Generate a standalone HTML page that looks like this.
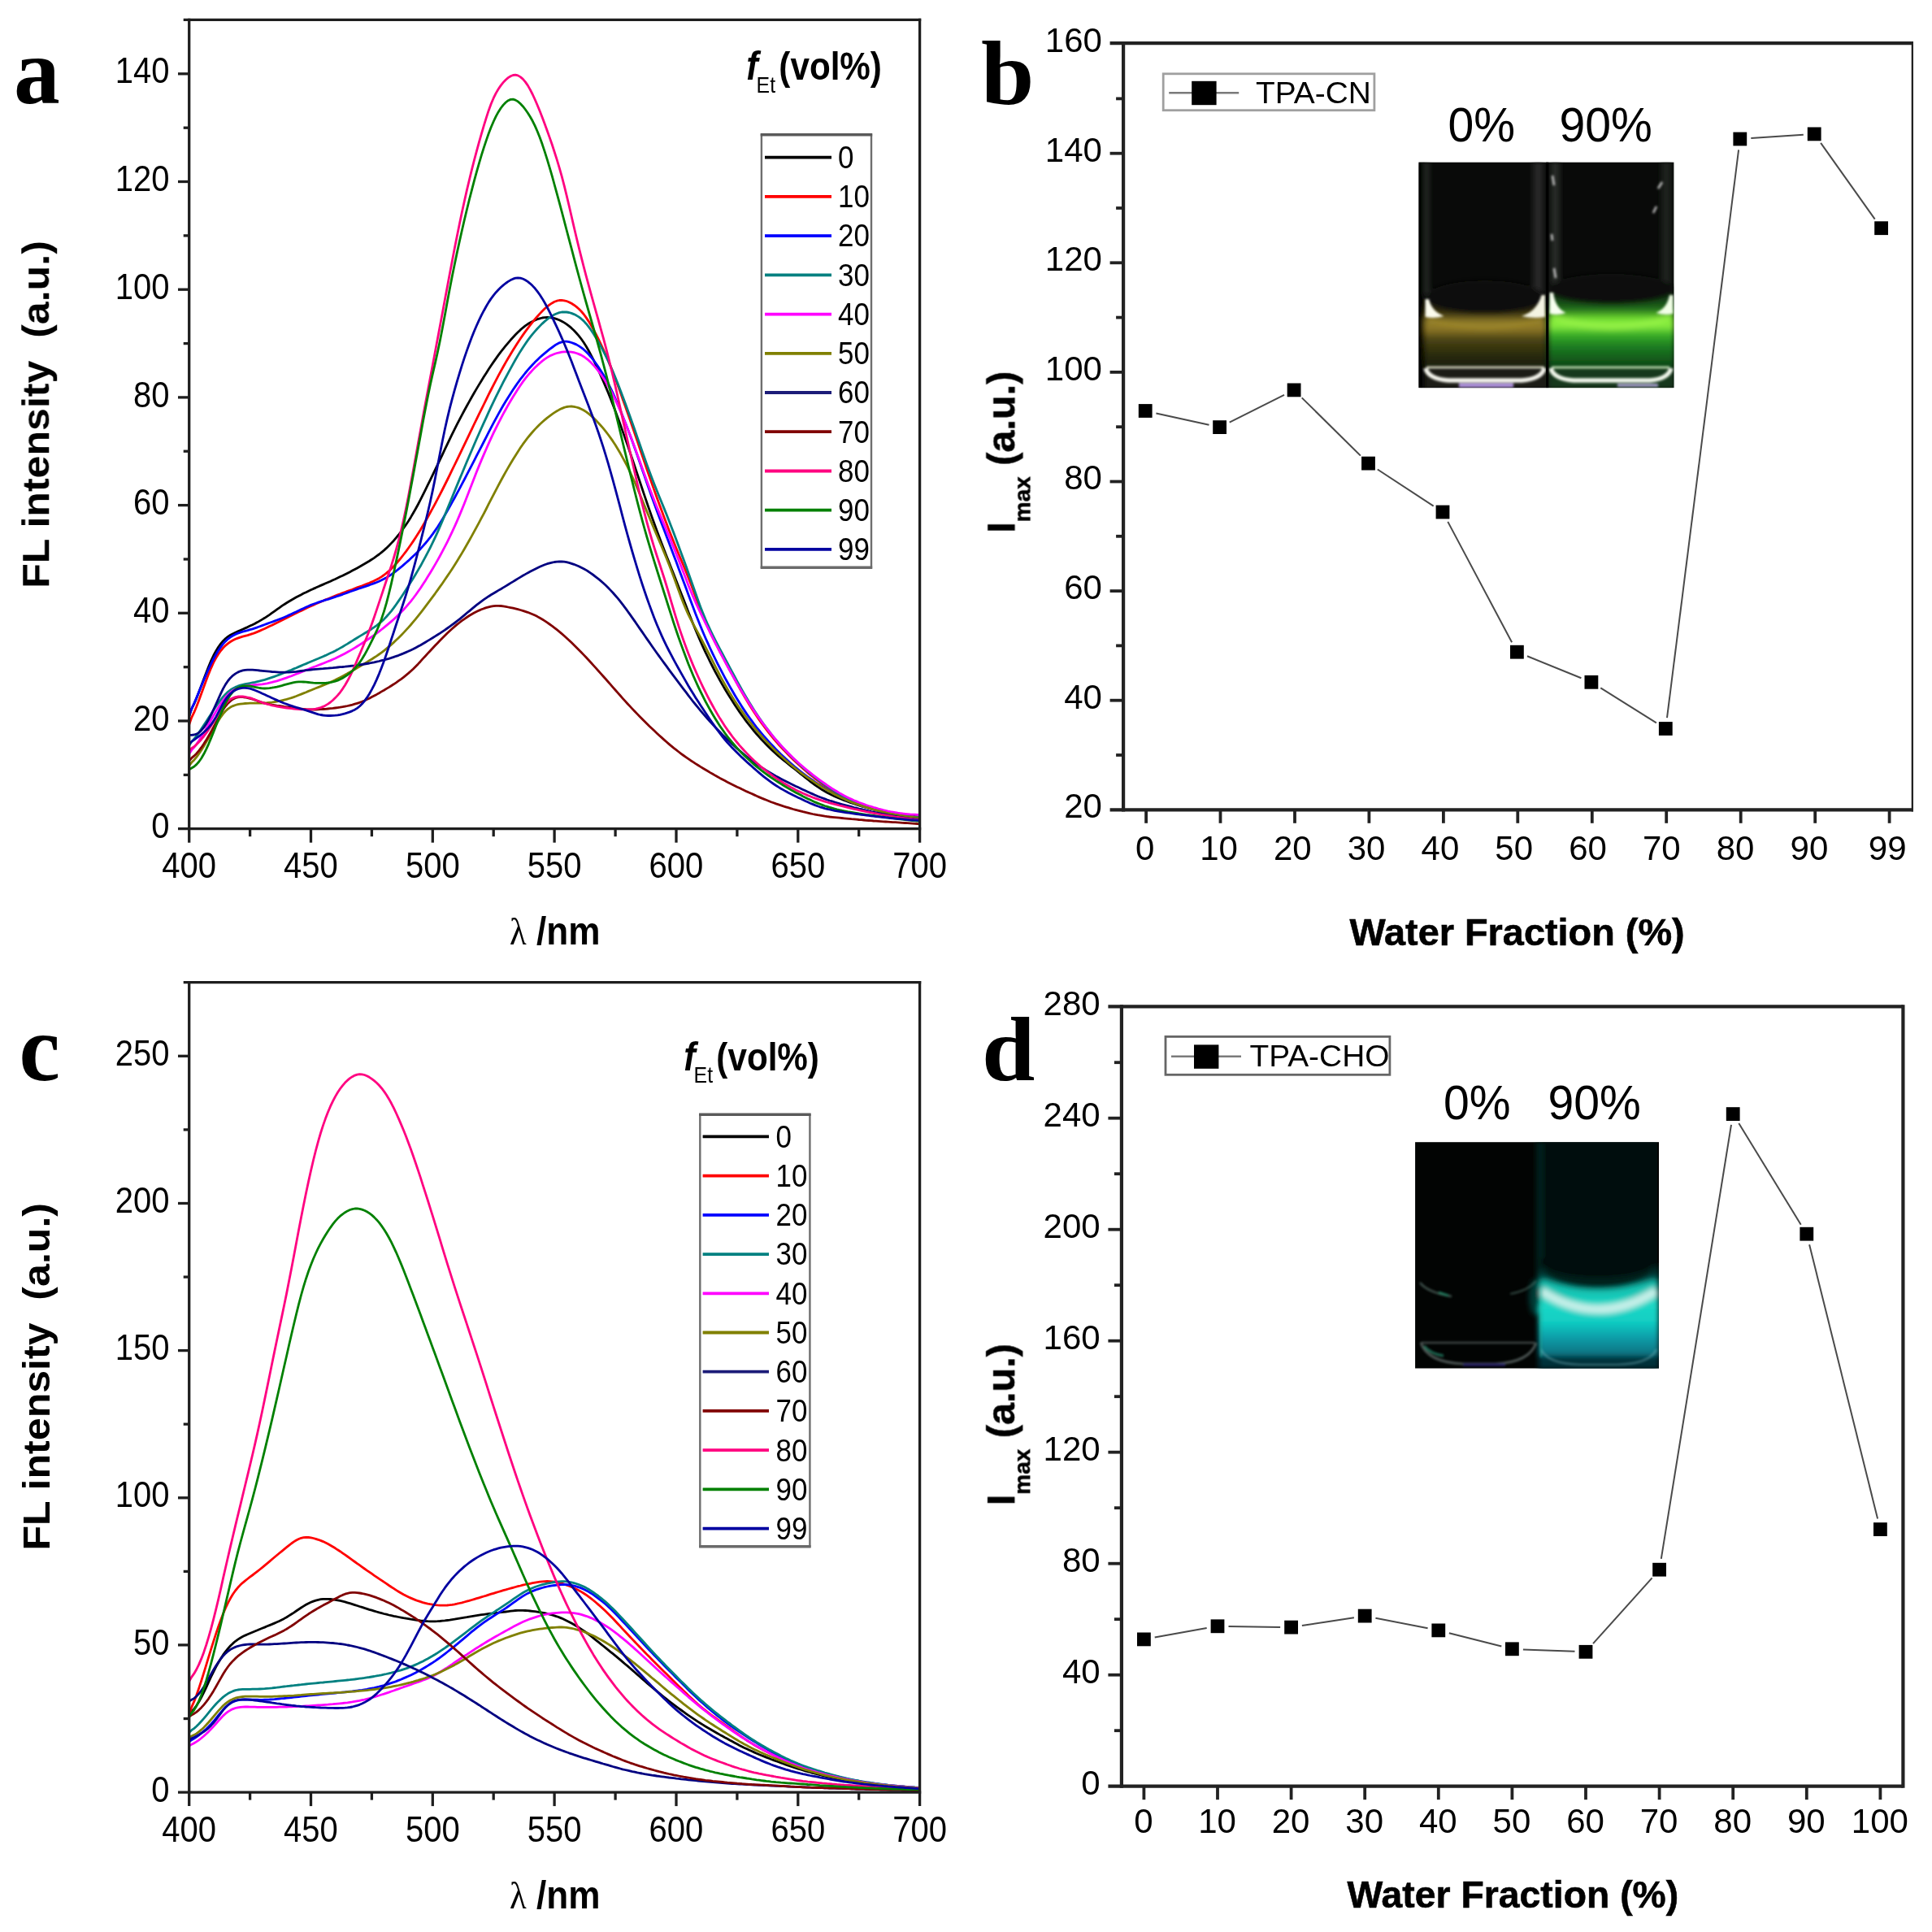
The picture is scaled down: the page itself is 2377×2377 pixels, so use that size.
<!DOCTYPE html>
<html lang="en"><head><meta charset="utf-8"><title>Fluorescence spectra of TPA-CN and TPA-CHO in water/ethanol mixtures</title>
<style>html,body{margin:0;padding:0;background:#fff}svg{display:block}</style></head><body>
<svg width="2377" height="2377" viewBox="0 0 2377 2377">
<rect width="2377" height="2377" fill="#fff"/>
<g filter="url(#soft)">
<clipPath id="clipa"><rect x="232.7" y="24.3" width="898.9" height="995.4"/></clipPath>
<g clip-path="url(#clipa)" fill="none" stroke-width="2.8" stroke-linejoin="round">
<path d="M232.7,881 235.7,872.3 238.7,866.2 241.7,859.2 244.7,851.5 247.7,843.6 250.7,835.6 253.7,827.7 256.7,820 259.7,812.9 262.7,806.5 265.7,800.9 268.7,796 271.7,791.9 274.6,788.4 277.6,785.5 280.6,783.2 283.6,781.3 286.6,779.7 289.6,778.2 292.6,776.9 295.6,775.6 298.6,774.2 301.6,772.9 304.6,771.6 307.6,770.1 310.6,768.7 313.6,767.2 316.6,765.6 319.6,763.9 322.6,762.1 325.6,760.3 328.6,758.3 331.6,756.3 334.6,754.2 337.6,752.1 340.6,749.9 343.6,747.8 346.6,745.7 349.6,743.7 352.6,741.8 355.5,740 358.5,738.2 361.5,736.5 364.5,734.8 367.5,733.2 370.5,731.7 373.5,730.1 376.5,728.7 379.5,727.2 382.5,725.8 385.5,724.4 388.5,723.1 391.5,721.7 394.5,720.4 397.5,719.1 400.5,717.8 403.5,716.5 406.5,715.2 409.5,713.8 412.5,712.5 415.5,711.1 418.5,709.6 421.5,708.2 424.5,706.7 427.5,705.2 430.5,703.7 433.5,702.1 436.5,700.5 439.4,698.9 442.4,697.2 445.4,695.5 448.4,693.8 451.4,692 454.4,690.2 457.4,688.3 460.4,686.3 463.4,684.2 466.4,682 469.4,679.6 472.4,677.1 475.4,674.4 478.4,671.5 481.4,668.4 484.4,665.2 487.4,661.7 490.4,658 493.4,654.1 496.4,650 499.4,645.7 502.4,641.2 505.4,636.4 508.4,631.3 511.4,626 514.4,620.5 517.4,614.7 520.3,608.8 523.3,602.8 526.3,596.7 529.3,590.6 532.3,584.4 535.3,578.2 538.3,571.9 541.3,565.6 544.3,559.3 547.3,552.9 550.3,546.6 553.3,540.4 556.3,534.2 559.3,528.2 562.3,522.2 565.3,516.4 568.3,510.7 571.3,505 574.3,499.5 577.3,494.1 580.3,488.7 583.3,483.5 586.3,478.4 589.3,473.4 592.3,468.5 595.3,463.6 598.3,458.9 601.2,454.3 604.2,449.8 607.2,445.4 610.2,441.1 613.2,436.9 616.2,432.9 619.2,429.1 622.2,425.4 625.2,421.8 628.2,418.3 631.2,415 634.2,411.8 637.2,408.8 640.2,405.9 643.2,403.3 646.2,400.9 649.2,398.8 652.2,397 655.2,395.4 658.2,393.9 661.2,392.7 664.2,391.8 667.2,391 670.2,390.6 673.2,390.4 676.2,390.6 679.2,391 682.1,391.7 685.1,392.6 688.1,393.7 691.1,395.2 694.1,396.9 697.1,398.9 700.1,401.2 703.1,403.7 706.1,406.5 709.1,409.7 712.1,413.1 715.1,417 718.1,421.3 721.1,426 724.1,431.2 727.1,436.8 730.1,442.7 733.1,448.8 736.1,455.2 739.1,461.8 742.1,468.6 745.1,475.6 748.1,482.8 751.1,490.2 754.1,497.9 757.1,505.8 760.1,513.9 763.1,522.1 766,530.4 769,538.9 772,547.4 775,556.1 778,565 781,573.9 784,582.9 787,591.9 790,601 793,609.9 796,618.7 799,627.4 802,635.9 805,644.3 808,652.4 811,660.5 814,668.4 817,676.2 820,683.9 823,691.6 826,699.2 829,706.8 832,714.5 835,722.2 838,729.9 841,737.6 844,745.3 846.9,752.9 849.9,760.5 852.9,768 855.9,775.2 858.9,782.3 861.9,789.2 864.9,795.8 867.9,802.3 870.9,808.5 873.9,814.6 876.9,820.5 879.9,826.3 882.9,831.8 885.9,837.3 888.9,842.6 891.9,847.7 894.9,852.7 897.9,857.6 900.9,862.3 903.9,867 906.9,871.5 909.9,875.9 912.9,880.1 915.9,884.3 918.9,888.3 921.9,892.1 924.9,895.9 927.8,899.5 930.8,903 933.8,906.4 936.8,909.7 939.8,912.9 942.8,916 945.8,919 948.8,921.9 951.8,924.7 954.8,927.4 957.8,930.1 960.8,932.6 963.8,935.1 966.8,937.5 969.8,939.9 972.8,942.3 975.8,944.7 978.8,947 981.8,949.4 984.8,951.8 987.8,954.2 990.8,956.6 993.8,958.9 996.8,961.3 999.8,963.6 1002.8,965.8 1005.8,967.9 1008.8,969.9 1011.7,971.8 1014.7,973.5 1017.7,975.2 1020.7,976.8 1023.7,978.3 1026.7,979.7 1029.7,981 1032.7,982.3 1035.7,983.5 1038.7,984.7 1041.7,985.8 1044.7,986.9 1047.7,988 1050.7,989 1053.7,990 1056.7,990.9 1059.7,991.8 1062.7,992.7 1065.7,993.5 1068.7,994.3 1071.7,995.1 1074.7,995.8 1077.7,996.5 1080.7,997.2 1083.7,997.8 1086.7,998.4 1089.7,999 1092.6,999.6 1095.6,1000.1 1098.6,1000.6 1101.6,1001.1 1104.6,1001.6 1107.6,1002 1110.6,1002.5 1113.6,1002.9 1116.6,1003.3 1119.6,1003.7 1122.6,1004 1125.6,1004.4 1128.6,1004.7 1131.6,1004.9" stroke="#000000"/>
<path d="M232.7,891.6 235.7,882.8 238.7,876.7 241.7,869.5 244.7,861.7 247.7,853.6 250.7,845.3 253.7,837 256.7,829.1 259.7,821.8 262.7,815.2 265.7,809.6 268.7,804.7 271.7,800.5 274.6,797 277.6,794.1 280.6,791.6 283.6,789.5 286.6,787.8 289.6,786.3 292.6,785.1 295.6,784.1 298.6,783.2 301.6,782.4 304.6,781.6 307.6,780.7 310.6,779.7 313.6,778.6 316.6,777.4 319.6,776.1 322.6,774.8 325.6,773.5 328.6,772.1 331.6,770.6 334.6,769.2 337.6,767.7 340.6,766.2 343.6,764.8 346.6,763.3 349.6,761.8 352.6,760.3 355.5,758.8 358.5,757.3 361.5,755.8 364.5,754.3 367.5,752.8 370.5,751.4 373.5,749.9 376.5,748.5 379.5,747.1 382.5,745.7 385.5,744.4 388.5,743 391.5,741.7 394.5,740.4 397.5,739.2 400.5,737.9 403.5,736.7 406.5,735.5 409.5,734.3 412.5,733.1 415.5,731.9 418.5,730.8 421.5,729.6 424.5,728.5 427.5,727.4 430.5,726.3 433.5,725.2 436.5,724 439.4,722.9 442.4,721.8 445.4,720.7 448.4,719.5 451.4,718.4 454.4,717.2 457.4,715.9 460.4,714.5 463.4,713 466.4,711.4 469.4,709.6 472.4,707.5 475.4,705.2 478.4,702.7 481.4,699.9 484.4,696.8 487.4,693.5 490.4,690 493.4,686.4 496.4,682.5 499.4,678.6 502.4,674.5 505.4,670.3 508.4,665.9 511.4,661.3 514.4,656.6 517.4,651.7 520.3,646.6 523.3,641.5 526.3,636.3 529.3,630.9 532.3,625.4 535.3,619.9 538.3,614.2 541.3,608.4 544.3,602.5 547.3,596.5 550.3,590.5 553.3,584.3 556.3,578.2 559.3,572 562.3,565.8 565.3,559.6 568.3,553.4 571.3,547.1 574.3,540.8 577.3,534.6 580.3,528.3 583.3,522 586.3,515.8 589.3,509.7 592.3,503.6 595.3,497.5 598.3,491.4 601.2,485.4 604.2,479.5 607.2,473.6 610.2,467.9 613.2,462.2 616.2,456.6 619.2,451.2 622.2,445.9 625.2,440.8 628.2,435.7 631.2,430.8 634.2,426 637.2,421.3 640.2,416.8 643.2,412.4 646.2,408.1 649.2,404.1 652.2,400.2 655.2,396.4 658.2,392.7 661.2,389.2 664.2,385.9 667.2,382.7 670.2,379.8 673.2,377.2 676.2,374.9 679.2,372.9 682.1,371.3 685.1,370.2 688.1,369.5 691.1,369.4 694.1,369.8 697.1,370.5 700.1,371.7 703.1,373.3 706.1,375.2 709.1,377.4 712.1,380 715.1,383 718.1,386.5 721.1,390.6 724.1,395.1 727.1,400 730.1,405.4 733.1,411 736.1,416.9 739.1,423.1 742.1,429.5 745.1,436.2 748.1,443.2 751.1,450.5 754.1,458.2 757.1,466 760.1,474.1 763.1,482.3 766,490.7 769,499.1 772,507.6 775,516.1 778,524.8 781,533.6 784,542.4 787,551.2 790,560.1 793,568.9 796,577.7 799,586.3 802,594.9 805,603.4 808,611.7 811,620 814,628.1 817,636.2 820,644.1 823,651.9 826,659.6 829,667.1 832,674.5 835,681.7 838,688.8 841,696 844,703.2 846.9,710.6 849.9,718.3 852.9,726.3 855.9,734.5 858.9,742.5 861.9,750.4 864.9,757.9 867.9,765 870.9,771.7 873.9,778.2 876.9,784.4 879.9,790.4 882.9,796.2 885.9,802 888.9,807.7 891.9,813.3 894.9,819 897.9,824.6 900.9,830.2 903.9,835.7 906.9,841.2 909.9,846.5 912.9,851.8 915.9,857 918.9,862 921.9,866.9 924.9,871.7 927.8,876.3 930.8,880.8 933.8,885.1 936.8,889.4 939.8,893.5 942.8,897.5 945.8,901.4 948.8,905.1 951.8,908.8 954.8,912.3 957.8,915.7 960.8,919 963.8,922.3 966.8,925.4 969.8,928.5 972.8,931.5 975.8,934.4 978.8,937.2 981.8,940 984.8,942.7 987.8,945.4 990.8,948 993.8,950.6 996.8,953.1 999.8,955.5 1002.8,957.9 1005.8,960.2 1008.8,962.4 1011.7,964.5 1014.7,966.6 1017.7,968.6 1020.7,970.6 1023.7,972.5 1026.7,974.3 1029.7,976.1 1032.7,977.8 1035.7,979.4 1038.7,981 1041.7,982.5 1044.7,983.9 1047.7,985.3 1050.7,986.6 1053.7,987.9 1056.7,989.1 1059.7,990.3 1062.7,991.4 1065.7,992.5 1068.7,993.5 1071.7,994.4 1074.7,995.3 1077.7,996.2 1080.7,997 1083.7,997.8 1086.7,998.6 1089.7,999.3 1092.6,1000 1095.6,1000.6 1098.6,1001.2 1101.6,1001.7 1104.6,1002.3 1107.6,1002.8 1110.6,1003.2 1113.6,1003.7 1116.6,1004.1 1119.6,1004.5 1122.6,1004.8 1125.6,1005.1 1128.6,1005.4 1131.6,1005.6" stroke="#ff0000"/>
<path d="M232.7,881 235.7,871.8 238.7,865.6 241.7,858.6 244.7,851.3 247.7,844 250.7,836.8 253.7,829.7 256.7,823 259.7,816.6 262.7,810.7 265.7,805.3 268.7,800.3 271.7,795.9 274.6,792.1 277.6,788.9 280.6,786.1 283.6,783.9 286.6,782 289.6,780.4 292.6,779.1 295.6,778.1 298.6,777.2 301.6,776.4 304.6,775.6 307.6,774.7 310.6,773.8 313.6,772.8 316.6,771.8 319.6,770.7 322.6,769.6 325.6,768.5 328.6,767.4 331.6,766.3 334.6,765.2 337.6,764.1 340.6,763 343.6,761.9 346.6,760.7 349.6,759.5 352.6,758.2 355.5,756.9 358.5,755.5 361.5,754.1 364.5,752.7 367.5,751.2 370.5,749.8 373.5,748.4 376.5,747 379.5,745.7 382.5,744.4 385.5,743.3 388.5,742.2 391.5,741.1 394.5,740.1 397.5,739.2 400.5,738.2 403.5,737.3 406.5,736.3 409.5,735.3 412.5,734.4 415.5,733.3 418.5,732.3 421.5,731.3 424.5,730.2 427.5,729.1 430.5,728 433.5,727 436.5,725.9 439.4,724.9 442.4,723.8 445.4,722.8 448.4,721.8 451.4,720.8 454.4,719.8 457.4,718.7 460.4,717.6 463.4,716.5 466.4,715.2 469.4,713.8 472.4,712.3 475.4,710.6 478.4,708.8 481.4,706.8 484.4,704.7 487.4,702.5 490.4,700.1 493.4,697.7 496.4,695.1 499.4,692.5 502.4,689.9 505.4,687.1 508.4,684.3 511.4,681.4 514.4,678.4 517.4,675.2 520.3,671.9 523.3,668.5 526.3,664.9 529.3,661.1 532.3,657.1 535.3,652.9 538.3,648.5 541.3,643.8 544.3,638.9 547.3,633.8 550.3,628.6 553.3,623.3 556.3,617.9 559.3,612.5 562.3,606.9 565.3,601.4 568.3,595.7 571.3,590 574.3,584.2 577.3,578.4 580.3,572.6 583.3,566.8 586.3,560.9 589.3,555.1 592.3,549.3 595.3,543.5 598.3,537.7 601.2,531.9 604.2,526.1 607.2,520.4 610.2,514.8 613.2,509.3 616.2,504 619.2,498.8 622.2,493.8 625.2,488.9 628.2,484.2 631.2,479.6 634.2,475.1 637.2,470.8 640.2,466.7 643.2,462.8 646.2,459 649.2,455.4 652.2,452 655.2,448.7 658.2,445.6 661.2,442.7 664.2,439.8 667.2,437.1 670.2,434.6 673.2,432.1 676.2,429.7 679.2,427.5 682.1,425.3 685.1,423.4 688.1,421.8 691.1,420.8 694.1,420.2 697.1,420.2 700.1,420.7 703.1,421.5 706.1,422.6 709.1,423.9 712.1,425.6 715.1,427.6 718.1,429.9 721.1,432.7 724.1,435.8 727.1,439.2 730.1,443 733.1,447 736.1,451.3 739.1,455.9 742.1,460.8 745.1,466 748.1,471.5 751.1,477.4 754.1,483.7 757.1,490.3 760.1,497.2 763.1,504.4 766,511.7 769,519.3 772,527 775,534.9 778,543.1 781,551.4 784,559.9 787,568.5 790,577.2 793,585.9 796,594.5 799,603.1 802,611.5 805,619.7 808,627.9 811,635.9 814,643.9 817,651.8 820,659.7 823,667.6 826,675.5 829,683.4 832,691.3 835,699.4 838,707.4 841,715.5 844,723.6 846.9,731.6 849.9,739.6 852.9,747.6 855.9,755.4 858.9,763.1 861.9,770.5 864.9,777.7 867.9,784.7 870.9,791.4 873.9,798 876.9,804.3 879.9,810.5 882.9,816.6 885.9,822.4 888.9,828.2 891.9,833.8 894.9,839.2 897.9,844.6 900.9,849.8 903.9,855 906.9,860 909.9,864.8 912.9,869.6 915.9,874.1 918.9,878.6 921.9,882.8 924.9,886.9 927.8,890.9 930.8,894.8 933.8,898.5 936.8,902.1 939.8,905.6 942.8,909 945.8,912.4 948.8,915.6 951.8,918.8 954.8,921.9 957.8,924.9 960.8,927.9 963.8,930.7 966.8,933.6 969.8,936.3 972.8,939 975.8,941.6 978.8,944.2 981.8,946.6 984.8,949 987.8,951.3 990.8,953.6 993.8,955.8 996.8,957.9 999.8,960 1002.8,962.1 1005.8,964.1 1008.8,966 1011.7,967.9 1014.7,969.8 1017.7,971.6 1020.7,973.4 1023.7,975.2 1026.7,976.9 1029.7,978.5 1032.7,980.1 1035.7,981.6 1038.7,983.1 1041.7,984.4 1044.7,985.7 1047.7,987 1050.7,988.1 1053.7,989.2 1056.7,990.3 1059.7,991.3 1062.7,992.3 1065.7,993.3 1068.7,994.2 1071.7,995.1 1074.7,996 1077.7,996.9 1080.7,997.8 1083.7,998.7 1086.7,999.5 1089.7,1000.3 1092.6,1001 1095.6,1001.8 1098.6,1002.4 1101.6,1003.1 1104.6,1003.6 1107.6,1004.2 1110.6,1004.7 1113.6,1005.2 1116.6,1005.6 1119.6,1006 1122.6,1006.3 1125.6,1006.6 1128.6,1006.8 1131.6,1007" stroke="#0000ff"/>
<path d="M232.7,917.5 235.7,912.6 238.7,909.3 241.7,905.4 244.7,901.2 247.7,896.8 250.7,892.3 253.7,887.7 256.7,883 259.7,878.4 262.7,873.8 265.7,869.3 268.7,864.9 271.7,860.8 274.6,857.1 277.6,853.9 280.6,851.1 283.6,848.8 286.6,847 289.6,845.4 292.6,844.2 295.6,843.2 298.6,842.4 301.6,841.7 304.6,841.1 307.6,840.5 310.6,839.9 313.6,839.3 316.6,838.6 319.6,837.9 322.6,837.1 325.6,836.3 328.6,835.4 331.6,834.4 334.6,833.4 337.6,832.4 340.6,831.3 343.6,830.1 346.6,829 349.6,827.8 352.6,826.6 355.5,825.4 358.5,824.2 361.5,822.9 364.5,821.7 367.5,820.4 370.5,819.1 373.5,817.8 376.5,816.6 379.5,815.3 382.5,814 385.5,812.8 388.5,811.5 391.5,810.3 394.5,809 397.5,807.7 400.5,806.4 403.5,805 406.5,803.6 409.5,802.2 412.5,800.7 415.5,799.1 418.5,797.4 421.5,795.7 424.5,793.9 427.5,792.1 430.5,790.2 433.5,788.4 436.5,786.5 439.4,784.7 442.4,782.9 445.4,781.1 448.4,779.3 451.4,777.5 454.4,775.6 457.4,773.7 460.4,771.7 463.4,769.6 466.4,767.2 469.4,764.7 472.4,761.9 475.4,758.8 478.4,755.4 481.4,751.8 484.4,747.9 487.4,743.7 490.4,739.4 493.4,735 496.4,730.4 499.4,725.8 502.4,721.1 505.4,716.3 508.4,711.4 511.4,706.5 514.4,701.4 517.4,696.3 520.3,690.9 523.3,685.4 526.3,679.7 529.3,673.8 532.3,667.7 535.3,661.4 538.3,654.8 541.3,647.9 544.3,640.9 547.3,633.7 550.3,626.4 553.3,619.1 556.3,611.7 559.3,604.4 562.3,597.1 565.3,589.9 568.3,582.7 571.3,575.5 574.3,568.3 577.3,561.2 580.3,554.2 583.3,547.2 586.3,540.3 589.3,533.5 592.3,526.8 595.3,520.2 598.3,513.6 601.2,507.1 604.2,500.7 607.2,494.4 610.2,488.2 613.2,482.1 616.2,476.1 619.2,470.2 622.2,464.5 625.2,458.8 628.2,453.3 631.2,447.9 634.2,442.5 637.2,437.4 640.2,432.4 643.2,427.7 646.2,423.2 649.2,418.9 652.2,414.9 655.2,411.1 658.2,407.6 661.2,404.2 664.2,401.1 667.2,398.1 670.2,395.4 673.2,392.9 676.2,390.7 679.2,388.7 682.1,387.1 685.1,385.7 688.1,384.6 691.1,384 694.1,383.8 697.1,384 700.1,384.5 703.1,385.4 706.1,386.6 709.1,388.1 712.1,389.9 715.1,392.2 718.1,394.9 721.1,398.2 724.1,401.9 727.1,406 730.1,410.6 733.1,415.4 736.1,420.5 739.1,425.9 742.1,431.6 745.1,437.5 748.1,443.7 751.1,450.4 754.1,457.3 757.1,464.5 760.1,472 763.1,479.7 766,487.6 769,495.6 772,503.7 775,512 778,520.4 781,528.9 784,537.6 787,546.3 790,554.9 793,563.5 796,571.9 799,580.1 802,588.1 805,595.8 808,603.3 811,610.7 814,618 817,625.4 820,632.8 823,640.4 826,648.2 829,656.1 832,664.1 835,672.1 838,680.2 841,688.3 844,696.5 846.9,704.8 849.9,713.2 852.9,721.7 855.9,730.3 858.9,738.8 861.9,746.9 864.9,754.6 867.9,761.9 870.9,768.7 873.9,775.1 876.9,781.3 879.9,787.3 882.9,793.1 885.9,798.8 888.9,804.4 891.9,810.1 894.9,815.7 897.9,821.3 900.9,827 903.9,832.5 906.9,838.1 909.9,843.5 912.9,848.9 915.9,854.2 918.9,859.3 921.9,864.3 924.9,869.1 927.8,873.8 930.8,878.3 933.8,882.8 936.8,887.1 939.8,891.3 942.8,895.3 945.8,899.2 948.8,903.1 951.8,906.8 954.8,910.4 957.8,913.9 960.8,917.3 963.8,920.6 966.8,923.8 969.8,926.9 972.8,930 975.8,932.9 978.8,935.8 981.8,938.7 984.8,941.4 987.8,944.1 990.8,946.7 993.8,949.3 996.8,951.7 999.8,954.2 1002.8,956.5 1005.8,958.8 1008.8,961.1 1011.7,963.2 1014.7,965.4 1017.7,967.4 1020.7,969.5 1023.7,971.4 1026.7,973.3 1029.7,975.2 1032.7,976.9 1035.7,978.6 1038.7,980.2 1041.7,981.8 1044.7,983.2 1047.7,984.6 1050.7,986 1053.7,987.2 1056.7,988.4 1059.7,989.6 1062.7,990.7 1065.7,991.8 1068.7,992.8 1071.7,993.8 1074.7,994.7 1077.7,995.7 1080.7,996.6 1083.7,997.4 1086.7,998.2 1089.7,999 1092.6,999.8 1095.6,1000.5 1098.6,1001.1 1101.6,1001.7 1104.6,1002.3 1107.6,1002.8 1110.6,1003.3 1113.6,1003.8 1116.6,1004.2 1119.6,1004.6 1122.6,1004.9 1125.6,1005.2 1128.6,1005.5 1131.6,1005.6" stroke="#008080"/>
<path d="M232.7,927.5 235.7,922.9 238.7,919.6 241.7,915.6 244.7,911.2 247.7,906.5 250.7,901.6 253.7,896.4 256.7,891.1 259.7,885.8 262.7,880.5 265.7,875.4 268.7,870.4 271.7,865.8 274.6,861.6 277.6,857.8 280.6,854.6 283.6,851.9 286.6,849.6 289.6,847.8 292.6,846.4 295.6,845.3 298.6,844.6 301.6,844 304.6,843.6 307.6,843.3 310.6,843 313.6,842.7 316.6,842.4 319.6,842.1 322.6,841.8 325.6,841.3 328.6,840.8 331.6,840.1 334.6,839.4 337.6,838.6 340.6,837.8 343.6,836.8 346.6,835.9 349.6,834.9 352.6,833.9 355.5,832.8 358.5,831.7 361.5,830.5 364.5,829.3 367.5,828.1 370.5,826.9 373.5,825.7 376.5,824.4 379.5,823.2 382.5,822 385.5,820.8 388.5,819.7 391.5,818.5 394.5,817.4 397.5,816.2 400.5,815 403.5,813.8 406.5,812.6 409.5,811.3 412.5,810 415.5,808.5 418.5,807.1 421.5,805.5 424.5,803.9 427.5,802.3 430.5,800.6 433.5,798.9 436.5,797.1 439.4,795.3 442.4,793.4 445.4,791.5 448.4,789.5 451.4,787.5 454.4,785.5 457.4,783.4 460.4,781.3 463.4,779.1 466.4,776.8 469.4,774.5 472.4,772.1 475.4,769.7 478.4,767.2 481.4,764.6 484.4,762 487.4,759.2 490.4,756.3 493.4,753.3 496.4,750.2 499.4,746.9 502.4,743.4 505.4,739.8 508.4,736 511.4,732 514.4,727.8 517.4,723.5 520.3,719 523.3,714.4 526.3,709.6 529.3,704.7 532.3,699.7 535.3,694.6 538.3,689.4 541.3,684 544.3,678.4 547.3,672.7 550.3,666.8 553.3,660.7 556.3,654.4 559.3,647.9 562.3,641.1 565.3,634.1 568.3,626.9 571.3,619.4 574.3,611.7 577.3,604 580.3,596.2 583.3,588.5 586.3,580.8 589.3,573.4 592.3,566.1 595.3,559.1 598.3,552.3 601.2,545.6 604.2,539.1 607.2,532.7 610.2,526.6 613.2,520.6 616.2,514.8 619.2,509.1 622.2,503.7 625.2,498.4 628.2,493.2 631.2,488.2 634.2,483.4 637.2,478.7 640.2,474.2 643.2,469.9 646.2,465.9 649.2,462.2 652.2,458.7 655.2,455.4 658.2,452.3 661.2,449.4 664.2,446.7 667.2,444.1 670.2,441.9 673.2,439.9 676.2,438.1 679.2,436.7 682.1,435.5 685.1,434.5 688.1,433.8 691.1,433.2 694.1,432.9 697.1,432.8 700.1,432.9 703.1,433.2 706.1,433.7 709.1,434.5 712.1,435.6 715.1,436.9 718.1,438.7 721.1,440.8 724.1,443.2 727.1,446.1 730.1,449.2 733.1,452.7 736.1,456.5 739.1,460.5 742.1,464.8 745.1,469.5 748.1,474.5 751.1,480 754.1,485.9 757.1,492.1 760.1,498.6 763.1,505.4 766,512.4 769,519.6 772,527 775,534.6 778,542.5 781,550.6 784,558.8 787,567.1 790,575.5 793,583.8 796,592.1 799,600.2 802,608 805,615.7 808,623.2 811,630.6 814,637.9 817,645.1 820,652.2 823,659.4 826,666.7 829,674 832,681.5 835,689.1 838,696.8 841,704.6 844,712.3 846.9,719.9 849.9,727.3 852.9,734.4 855.9,741.3 858.9,747.8 861.9,754.2 864.9,760.4 867.9,766.6 870.9,772.7 873.9,778.8 876.9,784.8 879.9,790.8 882.9,796.7 885.9,802.5 888.9,808.2 891.9,813.9 894.9,819.5 897.9,825 900.9,830.4 903.9,835.7 906.9,841 909.9,846.1 912.9,851.2 915.9,856.1 918.9,860.9 921.9,865.6 924.9,870.2 927.8,874.7 930.8,879.1 933.8,883.3 936.8,887.5 939.8,891.6 942.8,895.5 945.8,899.4 948.8,903.1 951.8,906.8 954.8,910.3 957.8,913.7 960.8,917.1 963.8,920.3 966.8,923.5 969.8,926.5 972.8,929.5 975.8,932.4 978.8,935.2 981.8,938 984.8,940.7 987.8,943.3 990.8,945.8 993.8,948.3 996.8,950.7 999.8,953.1 1002.8,955.3 1005.8,957.6 1008.8,959.8 1011.7,961.9 1014.7,964 1017.7,966.1 1020.7,968.1 1023.7,970.1 1026.7,972 1029.7,973.8 1032.7,975.6 1035.7,977.3 1038.7,978.9 1041.7,980.5 1044.7,981.9 1047.7,983.3 1050.7,984.7 1053.7,985.9 1056.7,987.2 1059.7,988.3 1062.7,989.4 1065.7,990.5 1068.7,991.5 1071.7,992.4 1074.7,993.4 1077.7,994.2 1080.7,995.1 1083.7,995.9 1086.7,996.7 1089.7,997.4 1092.6,998.1 1095.6,998.7 1098.6,999.2 1101.6,999.7 1104.6,1000.2 1107.6,1000.6 1110.6,1001 1113.6,1001.3 1116.6,1001.6 1119.6,1001.9 1122.6,1002.1 1125.6,1002.2 1128.6,1002.3 1131.6,1002.4" stroke="#ff00ff"/>
<path d="M232.7,942.1 235.7,938.1 238.7,935.2 241.7,931.6 244.7,927.5 247.7,923 250.7,918.2 253.7,913.1 256.7,907.8 259.7,902.4 262.7,897 265.7,891.8 268.7,886.8 271.7,882.1 274.6,878.1 277.6,874.7 280.6,872.1 283.6,870.1 286.6,868.6 289.6,867.5 292.6,866.7 295.6,866.2 298.6,865.8 301.6,865.5 304.6,865.3 307.6,865.2 310.6,865.1 313.6,865.1 316.6,865.1 319.6,865.1 322.6,865 325.6,864.9 328.6,864.7 331.6,864.4 334.6,864.1 337.6,863.6 340.6,863.1 343.6,862.5 346.6,861.8 349.6,861.1 352.6,860.4 355.5,859.5 358.5,858.6 361.5,857.6 364.5,856.5 367.5,855.3 370.5,854.1 373.5,852.9 376.5,851.7 379.5,850.4 382.5,849.2 385.5,848 388.5,846.8 391.5,845.6 394.5,844.4 397.5,843.1 400.5,841.9 403.5,840.6 406.5,839.3 409.5,837.9 412.5,836.5 415.5,835 418.5,833.5 421.5,831.9 424.5,830.3 427.5,828.6 430.5,827 433.5,825.2 436.5,823.5 439.4,821.7 442.4,820 445.4,818.2 448.4,816.4 451.4,814.6 454.4,812.8 457.4,811 460.4,809 463.4,807.1 466.4,805 469.4,802.9 472.4,800.6 475.4,798.2 478.4,795.7 481.4,793.1 484.4,790.4 487.4,787.6 490.4,784.7 493.4,781.7 496.4,778.6 499.4,775.4 502.4,772.1 505.4,768.7 508.4,765.2 511.4,761.6 514.4,757.9 517.4,754.1 520.3,750.3 523.3,746.4 526.3,742.4 529.3,738.4 532.3,734.3 535.3,730.3 538.3,726.1 541.3,721.9 544.3,717.7 547.3,713.3 550.3,708.9 553.3,704.5 556.3,699.9 559.3,695.2 562.3,690.5 565.3,685.6 568.3,680.6 571.3,675.5 574.3,670.3 577.3,665 580.3,659.6 583.3,654.1 586.3,648.6 589.3,643.1 592.3,637.4 595.3,631.8 598.3,626 601.2,620.2 604.2,614.4 607.2,608.6 610.2,602.8 613.2,597.1 616.2,591.5 619.2,586 622.2,580.6 625.2,575.4 628.2,570.3 631.2,565.3 634.2,560.4 637.2,555.7 640.2,551.1 643.2,546.7 646.2,542.6 649.2,538.7 652.2,535 655.2,531.5 658.2,528.1 661.2,525 664.2,522 667.2,519.2 670.2,516.6 673.2,514.1 676.2,511.8 679.2,509.6 682.1,507.6 685.1,505.8 688.1,504.1 691.1,502.6 694.1,501.4 697.1,500.5 700.1,500.1 703.1,500 706.1,500.3 709.1,501 712.1,501.9 715.1,503.2 718.1,504.7 721.1,506.6 724.1,508.9 727.1,511.4 730.1,514.1 733.1,517.1 736.1,520.2 739.1,523.5 742.1,526.9 745.1,530.6 748.1,534.5 751.1,538.6 754.1,542.9 757.1,547.5 760.1,552.4 763.1,557.5 766,562.8 769,568.4 772,574.2 775,580.4 778,586.8 781,593.5 784,600.5 787,607.6 790,614.9 793,622.2 796,629.5 799,636.8 802,644 805,651.1 808,658.2 811,665.3 814,672.3 817,679.5 820,686.8 823,694.3 826,702 829,710 832,718.2 835,726.6 838,734.7 841,742.5 844,749.6 846.9,756.1 849.9,762.1 852.9,767.8 855.9,773.3 858.9,778.8 861.9,784.4 864.9,790.1 867.9,795.9 870.9,801.8 873.9,807.7 876.9,813.7 879.9,819.7 882.9,825.5 885.9,831.3 888.9,836.9 891.9,842.3 894.9,847.5 897.9,852.6 900.9,857.4 903.9,862.2 906.9,866.7 909.9,871.2 912.9,875.4 915.9,879.6 918.9,883.6 921.9,887.5 924.9,891.3 927.8,895 930.8,898.6 933.8,902.1 936.8,905.5 939.8,908.9 942.8,912.1 945.8,915.3 948.8,918.4 951.8,921.4 954.8,924.4 957.8,927.3 960.8,930.1 963.8,932.8 966.8,935.5 969.8,938.1 972.8,940.7 975.8,943.2 978.8,945.6 981.8,948 984.8,950.3 987.8,952.5 990.8,954.7 993.8,956.8 996.8,958.9 999.8,960.9 1002.8,962.9 1005.8,964.8 1008.8,966.7 1011.7,968.6 1014.7,970.4 1017.7,972.1 1020.7,973.8 1023.7,975.5 1026.7,977.2 1029.7,978.7 1032.7,980.3 1035.7,981.7 1038.7,983.1 1041.7,984.5 1044.7,985.7 1047.7,987 1050.7,988.1 1053.7,989.2 1056.7,990.3 1059.7,991.4 1062.7,992.3 1065.7,993.3 1068.7,994.2 1071.7,995.1 1074.7,996 1077.7,996.8 1080.7,997.6 1083.7,998.4 1086.7,999.2 1089.7,999.9 1092.6,1000.6 1095.6,1001.2 1098.6,1001.8 1101.6,1002.4 1104.6,1002.9 1107.6,1003.5 1110.6,1003.9 1113.6,1004.4 1116.6,1004.8 1119.6,1005.2 1122.6,1005.5 1125.6,1005.8 1128.6,1006.1 1131.6,1006.3" stroke="#808000"/>
<path d="M232.7,904.3 235.7,904.3 238.7,904 241.7,903.1 244.7,901.4 247.7,898.7 250.7,895.2 253.7,890.7 256.7,885.5 259.7,879.6 262.7,873.2 265.7,866.5 268.7,859.7 271.7,853.1 274.6,847.1 277.6,841.9 280.6,837.5 283.6,833.9 286.6,831.1 289.6,828.9 292.6,827.1 295.6,825.8 298.6,824.9 301.6,824.4 304.6,824.1 307.6,824.1 310.6,824.2 313.6,824.4 316.6,824.6 319.6,825 322.6,825.3 325.6,825.6 328.6,825.9 331.6,826.2 334.6,826.5 337.6,826.7 340.6,826.9 343.6,827.1 346.6,827.2 349.6,827.2 352.6,827.2 355.5,827.1 358.5,826.9 361.5,826.6 364.5,826.3 367.5,825.9 370.5,825.5 373.5,825.1 376.5,824.7 379.5,824.4 382.5,824 385.5,823.7 388.5,823.4 391.5,823.1 394.5,822.8 397.5,822.6 400.5,822.3 403.5,822.1 406.5,821.8 409.5,821.6 412.5,821.3 415.5,821 418.5,820.7 421.5,820.5 424.5,820.2 427.5,819.8 430.5,819.5 433.5,819.1 436.5,818.8 439.4,818.4 442.4,818 445.4,817.5 448.4,817 451.4,816.5 454.4,816 457.4,815.4 460.4,814.8 463.4,814.1 466.4,813.5 469.4,812.7 472.4,812 475.4,811.1 478.4,810.3 481.4,809.4 484.4,808.4 487.4,807.3 490.4,806.3 493.4,805.1 496.4,803.9 499.4,802.6 502.4,801.3 505.4,799.9 508.4,798.5 511.4,796.9 514.4,795.3 517.4,793.7 520.3,792 523.3,790.2 526.3,788.4 529.3,786.6 532.3,784.8 535.3,782.9 538.3,781 541.3,779.1 544.3,777.1 547.3,775.1 550.3,773 553.3,770.9 556.3,768.7 559.3,766.5 562.3,764.2 565.3,761.8 568.3,759.4 571.3,756.9 574.3,754.3 577.3,751.8 580.3,749.3 583.3,746.8 586.3,744.4 589.3,742.1 592.3,739.8 595.3,737.7 598.3,735.7 601.2,733.7 604.2,731.8 607.2,730 610.2,728.2 613.2,726.4 616.2,724.7 619.2,722.9 622.2,721.1 625.2,719.3 628.2,717.4 631.2,715.6 634.2,713.7 637.2,711.9 640.2,710.1 643.2,708.3 646.2,706.6 649.2,704.9 652.2,703.3 655.2,701.7 658.2,700.2 661.2,698.7 664.2,697.3 667.2,696 670.2,694.8 673.2,693.7 676.2,692.8 679.2,692.1 682.1,691.5 685.1,691.1 688.1,690.9 691.1,691 694.1,691.2 697.1,691.7 700.1,692.4 703.1,693.3 706.1,694.3 709.1,695.5 712.1,696.7 715.1,698.2 718.1,699.7 721.1,701.4 724.1,703.3 727.1,705.3 730.1,707.5 733.1,709.8 736.1,712.2 739.1,714.7 742.1,717.3 745.1,720.1 748.1,723 751.1,726.1 754.1,729.3 757.1,732.7 760.1,736.2 763.1,739.9 766,743.7 769,747.7 772,751.7 775,755.9 778,760.1 781,764.4 784,768.7 787,773.1 790,777.4 793,781.8 796,786.1 799,790.4 802,794.7 805,799 808,803.2 811,807.4 814,811.5 817,815.6 820,819.7 823,823.8 826,827.9 829,831.9 832,835.9 835,839.9 838,843.9 841,847.8 844,851.7 846.9,855.6 849.9,859.5 852.9,863.3 855.9,867 858.9,870.7 861.9,874.3 864.9,877.8 867.9,881.3 870.9,884.7 873.9,888.1 876.9,891.3 879.9,894.6 882.9,897.7 885.9,900.8 888.9,903.9 891.9,906.8 894.9,909.8 897.9,912.6 900.9,915.4 903.9,918.2 906.9,920.9 909.9,923.5 912.9,926.1 915.9,928.6 918.9,931 921.9,933.4 924.9,935.6 927.8,937.8 930.8,940 933.8,942 936.8,944.1 939.8,946 942.8,947.9 945.8,949.8 948.8,951.5 951.8,953.3 954.8,955 957.8,956.6 960.8,958.2 963.8,959.8 966.8,961.3 969.8,962.8 972.8,964.3 975.8,965.7 978.8,967.2 981.8,968.6 984.8,970 987.8,971.4 990.8,972.8 993.8,974.2 996.8,975.6 999.8,976.9 1002.8,978.2 1005.8,979.5 1008.8,980.7 1011.7,981.8 1014.7,982.9 1017.7,984 1020.7,985 1023.7,985.9 1026.7,986.9 1029.7,987.8 1032.7,988.7 1035.7,989.5 1038.7,990.3 1041.7,991.1 1044.7,991.9 1047.7,992.7 1050.7,993.5 1053.7,994.2 1056.7,995 1059.7,995.7 1062.7,996.4 1065.7,997.1 1068.7,997.8 1071.7,998.5 1074.7,999.1 1077.7,999.8 1080.7,1000.4 1083.7,1001 1086.7,1001.6 1089.7,1002.2 1092.6,1002.8 1095.6,1003.4 1098.6,1003.9 1101.6,1004.4 1104.6,1004.9 1107.6,1005.4 1110.6,1005.8 1113.6,1006.3 1116.6,1006.7 1119.6,1007.1 1122.6,1007.4 1125.6,1007.8 1128.6,1008 1131.6,1008.2" stroke="#000080"/>
<path d="M232.7,936.1 235.7,932.7 238.7,930.2 241.7,927.2 244.7,923.6 247.7,919.7 250.7,915.3 253.7,910.6 256.7,905.5 259.7,900.2 262.7,894.7 265.7,889 268.7,883.4 271.7,878 274.6,873 277.6,868.8 280.6,865.2 283.6,862.4 286.6,860.2 289.6,858.7 292.6,857.9 295.6,857.5 298.6,857.6 301.6,858 304.6,858.6 307.6,859.3 310.6,860.2 313.6,861.2 316.6,862.3 319.6,863.3 322.6,864.3 325.6,865.1 328.6,865.8 331.6,866.5 334.6,867.1 337.6,867.6 340.6,868.1 343.6,868.5 346.6,868.9 349.6,869.4 352.6,869.8 355.5,870.2 358.5,870.6 361.5,871 364.5,871.4 367.5,871.8 370.5,872.1 373.5,872.4 376.5,872.7 379.5,872.9 382.5,873 385.5,873 388.5,873 391.5,872.9 394.5,872.7 397.5,872.5 400.5,872.3 403.5,872 406.5,871.7 409.5,871.4 412.5,871 415.5,870.6 418.5,870.2 421.5,869.7 424.5,869.1 427.5,868.5 430.5,867.8 433.5,867.1 436.5,866.2 439.4,865.3 442.4,864.3 445.4,863.2 448.4,862 451.4,860.6 454.4,859.2 457.4,857.6 460.4,856 463.4,854.4 466.4,852.7 469.4,850.9 472.4,849.2 475.4,847.4 478.4,845.6 481.4,843.7 484.4,841.8 487.4,839.8 490.4,837.7 493.4,835.6 496.4,833.3 499.4,830.9 502.4,828.4 505.4,825.7 508.4,822.9 511.4,819.9 514.4,816.9 517.4,813.7 520.3,810.4 523.3,807.2 526.3,803.9 529.3,800.7 532.3,797.5 535.3,794.3 538.3,791.2 541.3,788 544.3,785 547.3,782 550.3,779 553.3,776.2 556.3,773.5 559.3,770.9 562.3,768.4 565.3,766 568.3,763.7 571.3,761.6 574.3,759.5 577.3,757.5 580.3,755.7 583.3,754 586.3,752.5 589.3,751.1 592.3,749.8 595.3,748.7 598.3,747.7 601.2,746.9 604.2,746.2 607.2,745.7 610.2,745.4 613.2,745.4 616.2,745.5 619.2,745.9 622.2,746.4 625.2,747 628.2,747.6 631.2,748.2 634.2,748.9 637.2,749.7 640.2,750.5 643.2,751.3 646.2,752.3 649.2,753.3 652.2,754.5 655.2,755.7 658.2,757.1 661.2,758.6 664.2,760.3 667.2,762 670.2,763.9 673.2,765.9 676.2,768 679.2,770.1 682.1,772.3 685.1,774.7 688.1,777.1 691.1,779.6 694.1,782.2 697.1,785 700.1,787.7 703.1,790.6 706.1,793.5 709.1,796.5 712.1,799.5 715.1,802.5 718.1,805.6 721.1,808.8 724.1,812 727.1,815.3 730.1,818.6 733.1,821.9 736.1,825.2 739.1,828.6 742.1,832 745.1,835.3 748.1,838.7 751.1,842.1 754.1,845.6 757.1,849 760.1,852.4 763.1,855.8 766,859.1 769,862.4 772,865.7 775,868.9 778,872.1 781,875.3 784,878.4 787,881.4 790,884.5 793,887.5 796,890.4 799,893.4 802,896.2 805,899.1 808,901.9 811,904.7 814,907.4 817,910.1 820,912.8 823,915.4 826,917.9 829,920.4 832,922.7 835,925 838,927.3 841,929.5 844,931.6 846.9,933.6 849.9,935.7 852.9,937.6 855.9,939.6 858.9,941.5 861.9,943.4 864.9,945.2 867.9,947 870.9,948.8 873.9,950.6 876.9,952.3 879.9,954.1 882.9,955.7 885.9,957.4 888.9,959 891.9,960.6 894.9,962.2 897.9,963.7 900.9,965.2 903.9,966.7 906.9,968.2 909.9,969.6 912.9,971.1 915.9,972.5 918.9,973.9 921.9,975.2 924.9,976.6 927.8,977.9 930.8,979.3 933.8,980.6 936.8,981.9 939.8,983.1 942.8,984.3 945.8,985.5 948.8,986.7 951.8,987.8 954.8,988.9 957.8,989.9 960.8,990.9 963.8,991.9 966.8,992.8 969.8,993.7 972.8,994.6 975.8,995.5 978.8,996.3 981.8,997.1 984.8,997.9 987.8,998.7 990.8,999.4 993.8,1000.1 996.8,1000.8 999.8,1001.5 1002.8,1002.1 1005.8,1002.7 1008.8,1003.2 1011.7,1003.7 1014.7,1004.2 1017.7,1004.6 1020.7,1005 1023.7,1005.3 1026.7,1005.6 1029.7,1005.9 1032.7,1006.2 1035.7,1006.5 1038.7,1006.8 1041.7,1007.1 1044.7,1007.4 1047.7,1007.7 1050.7,1007.9 1053.7,1008.2 1056.7,1008.5 1059.7,1008.7 1062.7,1009 1065.7,1009.3 1068.7,1009.5 1071.7,1009.7 1074.7,1010 1077.7,1010.2 1080.7,1010.4 1083.7,1010.6 1086.7,1010.8 1089.7,1011 1092.6,1011.2 1095.6,1011.4 1098.6,1011.6 1101.6,1011.7 1104.6,1011.9 1107.6,1012.1 1110.6,1012.3 1113.6,1012.5 1116.6,1012.7 1119.6,1012.9 1122.6,1013.1 1125.6,1013.3 1128.6,1013.5 1131.6,1013.6" stroke="#800000"/>
<path d="M232.7,923.5 235.7,920.7 238.7,918.7 241.7,916.1 244.7,913.1 247.7,909.7 250.7,906 253.7,901.9 256.7,897.6 259.7,892.9 262.7,888.1 265.7,883.1 268.7,878.1 271.7,873.3 274.6,869.1 277.6,865.5 280.6,862.6 283.6,860.3 286.6,858.7 289.6,857.6 292.6,857 295.6,856.8 298.6,857 301.6,857.4 304.6,858 307.6,858.7 310.6,859.7 313.6,860.8 316.6,862 319.6,863.2 322.6,864.3 325.6,865.3 328.6,866.2 331.6,867 334.6,867.8 337.6,868.5 340.6,869.1 343.6,869.7 346.6,870.2 349.6,870.6 352.6,871 355.5,871.4 358.5,871.7 361.5,872.1 364.5,872.3 367.5,872.6 370.5,872.8 373.5,872.9 376.5,873 379.5,873 382.5,872.9 385.5,872.6 388.5,872.1 391.5,871.4 394.5,870.5 397.5,869.4 400.5,867.9 403.5,866.1 406.5,864 409.5,861.5 412.5,858.6 415.5,855.4 418.5,851.8 421.5,847.6 424.5,843 427.5,837.8 430.5,832.1 433.5,825.9 436.5,819.3 439.4,812.4 442.4,805.4 445.4,798.2 448.4,791 451.4,783.5 454.4,775.8 457.4,767.7 460.4,759.2 463.4,750.4 466.4,741.4 469.4,732.4 472.4,723.3 475.4,714.3 478.4,705.3 481.4,696.1 484.4,686.5 487.4,676.2 490.4,665.2 493.4,653.1 496.4,640.1 499.4,626 502.4,610.9 505.4,595.1 508.4,578.8 511.4,562.2 514.4,545.6 517.4,529.1 520.3,512.9 523.3,496.8 526.3,480.9 529.3,465.1 532.3,449.2 535.3,433.3 538.3,417.3 541.3,401.3 544.3,385.2 547.3,369.1 550.3,353 553.3,337 556.3,321.2 559.3,305.6 562.3,290.5 565.3,275.7 568.3,261.4 571.3,247.7 574.3,234.4 577.3,221.7 580.3,209.4 583.3,197.6 586.3,186.3 589.3,175.3 592.3,164.8 595.3,154.6 598.3,144.9 601.2,135.9 604.2,127.8 607.2,120.7 610.2,114.6 613.2,109.5 616.2,105.1 619.2,101.4 622.2,98.2 625.2,95.6 628.2,93.7 631.2,92.5 634.2,92.2 637.2,92.9 640.2,94.6 643.2,97.1 646.2,100.6 649.2,104.9 652.2,110.1 655.2,116 658.2,122.5 661.2,129.5 664.2,136.8 667.2,144.5 670.2,152.5 673.2,160.7 676.2,169.1 679.2,177.7 682.1,186.7 685.1,196.1 688.1,206.1 691.1,216.7 694.1,228.1 697.1,240.3 700.1,253 703.1,266 706.1,279 709.1,291.8 712.1,304.2 715.1,316.2 718.1,327.9 721.1,339.3 724.1,350.4 727.1,361.4 730.1,372.2 733.1,382.9 736.1,393.5 739.1,404.3 742.1,415.2 745.1,426.4 748.1,438 751.1,450.1 754.1,462.5 757.1,475.3 760.1,488.5 763.1,501.7 766,515.1 769,528.5 772,541.9 775,555.2 778,568.4 781,581.5 784,594.5 787,607.2 790,619.5 793,631.4 796,642.8 799,653.7 802,664 805,673.8 808,683.2 811,692.3 814,701.5 817,710.8 820,720.5 823,730.5 826,740.8 829,751 832,760.9 835,770.4 838,779.4 841,788 844,796.2 846.9,804.1 849.9,811.6 852.9,818.9 855.9,825.8 858.9,832.5 861.9,839 864.9,845.3 867.9,851.3 870.9,857.3 873.9,863 876.9,868.5 879.9,873.9 882.9,879.1 885.9,884.1 888.9,888.8 891.9,893.4 894.9,897.8 897.9,901.9 900.9,906 903.9,909.8 906.9,913.5 909.9,917.1 912.9,920.5 915.9,923.8 918.9,926.9 921.9,930 924.9,932.9 927.8,935.8 930.8,938.5 933.8,941.1 936.8,943.7 939.8,946.2 942.8,948.6 945.8,950.9 948.8,953.1 951.8,955.3 954.8,957.3 957.8,959.4 960.8,961.3 963.8,963.2 966.8,965 969.8,966.8 972.8,968.5 975.8,970.1 978.8,971.7 981.8,973.2 984.8,974.6 987.8,976 990.8,977.3 993.8,978.6 996.8,979.8 999.8,981 1002.8,982.1 1005.8,983.1 1008.8,984.2 1011.7,985.1 1014.7,986.1 1017.7,987 1020.7,987.8 1023.7,988.6 1026.7,989.4 1029.7,990.2 1032.7,991 1035.7,991.7 1038.7,992.4 1041.7,993.2 1044.7,993.9 1047.7,994.6 1050.7,995.3 1053.7,995.9 1056.7,996.6 1059.7,997.3 1062.7,997.9 1065.7,998.6 1068.7,999.2 1071.7,999.8 1074.7,1000.4 1077.7,1000.9 1080.7,1001.5 1083.7,1002.1 1086.7,1002.6 1089.7,1003.1 1092.6,1003.6 1095.6,1004.1 1098.6,1004.6 1101.6,1005.1 1104.6,1005.5 1107.6,1006 1110.6,1006.4 1113.6,1006.8 1116.6,1007.2 1119.6,1007.6 1122.6,1008 1125.6,1008.3 1128.6,1008.6 1131.6,1008.9" stroke="#ff0080"/>
<path d="M232.7,946.7 235.7,945 238.7,943.2 241.7,940.6 244.7,937.2 247.7,933 250.7,927.8 253.7,921.9 256.7,915.3 259.7,908.1 262.7,900.7 265.7,893 268.7,885.4 271.7,878 274.6,871.1 277.6,864.9 280.6,859.4 283.6,854.8 286.6,851.1 289.6,848.2 292.6,846.2 295.6,845 298.6,844.2 301.6,843.9 304.6,843.9 307.6,844.2 310.6,844.7 313.6,845.3 316.6,845.9 319.6,846.5 322.6,846.8 325.6,847 328.6,846.9 331.6,846.6 334.6,846.2 337.6,845.7 340.6,845.1 343.6,844.4 346.6,843.6 349.6,842.7 352.6,841.9 355.5,841.1 358.5,840.3 361.5,839.6 364.5,839.2 367.5,838.9 370.5,838.9 373.5,839 376.5,839.2 379.5,839.5 382.5,839.8 385.5,840.1 388.5,840.3 391.5,840.4 394.5,840.4 397.5,840.4 400.5,840.3 403.5,840 406.5,839.6 409.5,839 412.5,838.2 415.5,837.2 418.5,835.8 421.5,834.2 424.5,832.4 427.5,830.3 430.5,828 433.5,825.5 436.5,822.5 439.4,819.1 442.4,815.2 445.4,810.8 448.4,805.8 451.4,800.3 454.4,794.6 457.4,788.7 460.4,782.6 463.4,776.2 466.4,769.2 469.4,761.4 472.4,752.4 475.4,742.2 478.4,730.7 481.4,718.1 484.4,704.8 487.4,690.9 490.4,676.7 493.4,662.2 496.4,647.3 499.4,632 502.4,616.4 505.4,600.5 508.4,584.4 511.4,568.1 514.4,551.7 517.4,535.4 520.3,519.2 523.3,503.4 526.3,488.2 529.3,473.8 532.3,460.3 535.3,447.2 538.3,433.8 541.3,419.5 544.3,404.1 547.3,388 550.3,371.6 553.3,355.6 556.3,340.1 559.3,325.2 562.3,310.9 565.3,297.1 568.3,283.7 571.3,270.8 574.3,258.2 577.3,246 580.3,234.3 583.3,222.9 586.3,211.9 589.3,201.4 592.3,191.2 595.3,181.6 598.3,172.6 601.2,164.2 604.2,156.5 607.2,149.5 610.2,143.2 613.2,137.7 616.2,133 619.2,129.1 622.2,126 625.2,123.7 628.2,122.4 631.2,122.2 634.2,123.1 637.2,124.9 640.2,127.5 643.2,130.7 646.2,134.5 649.2,138.7 652.2,143.5 655.2,148.8 658.2,154.9 661.2,161.7 664.2,169.3 667.2,177.6 670.2,186.6 673.2,196.1 676.2,206.1 679.2,216.4 682.1,227 685.1,237.9 688.1,248.9 691.1,260.2 694.1,271.5 697.1,283 700.1,294.4 703.1,305.7 706.1,317.1 709.1,328.3 712.1,339.5 715.1,350.5 718.1,361.3 721.1,372 724.1,382.5 727.1,393 730.1,403.5 733.1,414.1 736.1,424.8 739.1,435.7 742.1,447 745.1,458.4 748.1,470.2 751.1,482.1 754.1,494.3 757.1,506.6 760.1,518.9 763.1,531.3 766,543.7 769,556.1 772,568.5 775,580.8 778,593 781,605 784,616.9 787,628.4 790,639.6 793,650.5 796,661 799,671.1 802,681.1 805,690.9 808,700.5 811,710 814,719.5 817,729 820,738.5 823,748 826,757.4 829,766.7 832,775.8 835,784.5 838,792.9 841,801.1 844,809 846.9,816.7 849.9,824 852.9,831.2 855.9,838 858.9,844.6 861.9,850.9 864.9,856.9 867.9,862.8 870.9,868.4 873.9,873.8 876.9,879 879.9,884 882.9,888.8 885.9,893.4 888.9,897.8 891.9,902 894.9,906 897.9,909.8 900.9,913.5 903.9,917 906.9,920.4 909.9,923.6 912.9,926.7 915.9,929.7 918.9,932.5 921.9,935.3 924.9,938 927.8,940.6 930.8,943.1 933.8,945.5 936.8,947.8 939.8,950.1 942.8,952.3 945.8,954.5 948.8,956.6 951.8,958.6 954.8,960.6 957.8,962.5 960.8,964.4 963.8,966.3 966.8,968.1 969.8,969.9 972.8,971.6 975.8,973.3 978.8,974.9 981.8,976.5 984.8,978.1 987.8,979.7 990.8,981.2 993.8,982.7 996.8,984.1 999.8,985.5 1002.8,986.9 1005.8,988.1 1008.8,989.3 1011.7,990.4 1014.7,991.5 1017.7,992.4 1020.7,993.3 1023.7,994.2 1026.7,995 1029.7,995.8 1032.7,996.5 1035.7,997.2 1038.7,997.8 1041.7,998.4 1044.7,999 1047.7,999.5 1050.7,1000 1053.7,1000.5 1056.7,1001 1059.7,1001.4 1062.7,1001.8 1065.7,1002.3 1068.7,1002.7 1071.7,1003.1 1074.7,1003.5 1077.7,1003.9 1080.7,1004.4 1083.7,1004.8 1086.7,1005.2 1089.7,1005.6 1092.6,1005.9 1095.6,1006.3 1098.6,1006.7 1101.6,1007.1 1104.6,1007.5 1107.6,1007.8 1110.6,1008.2 1113.6,1008.5 1116.6,1008.8 1119.6,1009.2 1122.6,1009.5 1125.6,1009.8 1128.6,1010 1131.6,1010.2" stroke="#008000"/>
<path d="M232.7,915.5 235.7,912.4 238.7,910.3 241.7,908.1 244.7,905.8 247.7,903.5 250.7,901 253.7,898.3 256.7,895.2 259.7,891.5 262.7,887.1 265.7,882.1 268.7,876.4 271.7,870.7 274.6,865.2 277.6,860.4 280.6,856.4 283.6,853.3 286.6,850.8 289.6,849 292.6,847.7 295.6,846.9 298.6,846.4 301.6,846.3 304.6,846.6 307.6,847.2 310.6,848.1 313.6,849.2 316.6,850.5 319.6,851.8 322.6,853.2 325.6,854.5 328.6,855.9 331.6,857.3 334.6,858.7 337.6,860.1 340.6,861.4 343.6,862.7 346.6,864 349.6,865.2 352.6,866.3 355.5,867.4 358.5,868.4 361.5,869.4 364.5,870.3 367.5,871.2 370.5,872.1 373.5,873 376.5,873.9 379.5,874.8 382.5,875.8 385.5,876.8 388.5,877.8 391.5,878.8 394.5,879.5 397.5,880 400.5,880.4 403.5,880.5 406.5,880.5 409.5,880.4 412.5,880.2 415.5,879.8 418.5,879.3 421.5,878.6 424.5,877.8 427.5,876.9 430.5,875.9 433.5,874.6 436.5,873.2 439.4,871.3 442.4,869 445.4,866.1 448.4,862.6 451.4,858.4 454.4,853.7 457.4,848.4 460.4,842.6 463.4,836.1 466.4,829.1 469.4,821.5 472.4,813.4 475.4,804.9 478.4,796 481.4,786.8 484.4,777.7 487.4,768.5 490.4,759.5 493.4,750.6 496.4,741.5 499.4,732.1 502.4,722.3 505.4,712 508.4,701.1 511.4,689.8 514.4,678.3 517.4,666.7 520.3,654.9 523.3,642.9 526.3,630.5 529.3,617.5 532.3,603.6 535.3,588.9 538.3,573.5 541.3,557.9 544.3,542.7 547.3,528.3 550.3,514.9 553.3,502.4 556.3,490.8 559.3,479.9 562.3,469.4 565.3,459.4 568.3,449.7 571.3,440.4 574.3,431.6 577.3,423.2 580.3,415.2 583.3,407.7 586.3,400.7 589.3,394.1 592.3,387.9 595.3,382.2 598.3,376.8 601.2,371.9 604.2,367.4 607.2,363.4 610.2,359.7 613.2,356.5 616.2,353.5 619.2,350.9 622.2,348.5 625.2,346.4 628.2,344.6 631.2,343.2 634.2,342.2 637.2,341.9 640.2,342.1 643.2,343 646.2,344.5 649.2,346.4 652.2,348.8 655.2,351.6 658.2,354.8 661.2,358.6 664.2,362.8 667.2,367.4 670.2,372.5 673.2,378 676.2,383.8 679.2,389.9 682.1,396.1 685.1,402.4 688.1,408.9 691.1,415.6 694.1,422.5 697.1,429.6 700.1,437 703.1,444.6 706.1,452.4 709.1,460.3 712.1,468.2 715.1,476 718.1,483.8 721.1,491.5 724.1,499.3 727.1,507.2 730.1,515.1 733.1,523.3 736.1,531.8 739.1,540.7 742.1,549.9 745.1,559.6 748.1,569.7 751.1,580.2 754.1,590.9 757.1,601.9 760.1,613.1 763.1,624.3 766,635.6 769,646.8 772,657.8 775,668.5 778,679 781,689.2 784,699.2 787,708.8 790,718.2 793,727.2 796,736 799,744.4 802,752.6 805,760.4 808,767.9 811,775 814,781.9 817,788.4 820,794.6 823,800.5 826,806.2 829,811.8 832,817.3 835,822.7 838,828.1 841,833.4 844,838.6 846.9,843.7 849.9,848.7 852.9,853.6 855.9,858.4 858.9,863.1 861.9,867.7 864.9,872.3 867.9,876.8 870.9,881.3 873.9,885.8 876.9,890.1 879.9,894.4 882.9,898.5 885.9,902.5 888.9,906.3 891.9,910 894.9,913.5 897.9,916.8 900.9,920.1 903.9,923.1 906.9,926.1 909.9,929 912.9,931.9 915.9,934.6 918.9,937.4 921.9,940.1 924.9,942.7 927.8,945.4 930.8,948 933.8,950.6 936.8,953.1 939.8,955.6 942.8,957.9 945.8,960.2 948.8,962.4 951.8,964.5 954.8,966.5 957.8,968.4 960.8,970.2 963.8,971.9 966.8,973.6 969.8,975.2 972.8,976.7 975.8,978.3 978.8,979.7 981.8,981.2 984.8,982.6 987.8,984.1 990.8,985.5 993.8,986.8 996.8,988.2 999.8,989.4 1002.8,990.6 1005.8,991.7 1008.8,992.8 1011.7,993.7 1014.7,994.6 1017.7,995.3 1020.7,996 1023.7,996.7 1026.7,997.3 1029.7,997.8 1032.7,998.4 1035.7,998.8 1038.7,999.3 1041.7,999.8 1044.7,1000.2 1047.7,1000.7 1050.7,1001.1 1053.7,1001.5 1056.7,1001.9 1059.7,1002.3 1062.7,1002.7 1065.7,1003 1068.7,1003.4 1071.7,1003.8 1074.7,1004.1 1077.7,1004.5 1080.7,1004.8 1083.7,1005.2 1086.7,1005.5 1089.7,1005.8 1092.6,1006.2 1095.6,1006.5 1098.6,1006.8 1101.6,1007.1 1104.6,1007.4 1107.6,1007.7 1110.6,1007.9 1113.6,1008.2 1116.6,1008.5 1119.6,1008.8 1122.6,1009 1125.6,1009.2 1128.6,1009.4 1131.6,1009.6" stroke="#0000a0"/>
</g>
<g stroke="#1e1e1e" stroke-width="3.3" stroke-linecap="butt">
<line x1="232.7" y1="22.7" x2="232.7" y2="1036.7"/>
<line x1="1131.6" y1="22.7" x2="1131.6" y2="1036.7"/>
<line x1="225.7" y1="24.3" x2="1133.2" y2="24.3"/>
<line x1="219" y1="1019.7" x2="1133.2" y2="1019.7"/>
<line x1="307.6" y1="1019.7" x2="307.6" y2="1029.2"/>
<line x1="382.5" y1="1019.7" x2="382.5" y2="1036.7"/>
<line x1="457.4" y1="1019.7" x2="457.4" y2="1029.2"/>
<line x1="532.3" y1="1019.7" x2="532.3" y2="1036.7"/>
<line x1="607.2" y1="1019.7" x2="607.2" y2="1029.2"/>
<line x1="682.1" y1="1019.7" x2="682.1" y2="1036.7"/>
<line x1="757.1" y1="1019.7" x2="757.1" y2="1029.2"/>
<line x1="832" y1="1019.7" x2="832" y2="1036.7"/>
<line x1="906.9" y1="1019.7" x2="906.9" y2="1029.2"/>
<line x1="981.8" y1="1019.7" x2="981.8" y2="1036.7"/>
<line x1="1056.7" y1="1019.7" x2="1056.7" y2="1029.2"/>
<line x1="225.7" y1="953.4" x2="232.7" y2="953.4"/>
<line x1="219" y1="887" x2="232.7" y2="887"/>
<line x1="225.7" y1="820.7" x2="232.7" y2="820.7"/>
<line x1="219" y1="754.3" x2="232.7" y2="754.3"/>
<line x1="225.7" y1="688" x2="232.7" y2="688"/>
<line x1="219" y1="621.6" x2="232.7" y2="621.6"/>
<line x1="225.7" y1="555.2" x2="232.7" y2="555.2"/>
<line x1="219" y1="488.9" x2="232.7" y2="488.9"/>
<line x1="225.7" y1="422.6" x2="232.7" y2="422.6"/>
<line x1="219" y1="356.2" x2="232.7" y2="356.2"/>
<line x1="225.7" y1="289.9" x2="232.7" y2="289.9"/>
<line x1="219" y1="223.5" x2="232.7" y2="223.5"/>
<line x1="225.7" y1="157.2" x2="232.7" y2="157.2"/>
<line x1="219" y1="90.8" x2="232.7" y2="90.8"/>
</g>
<text transform="translate(232.7,1080.2) scale(0.92,1)" font-family='"Liberation Sans", Arial, sans-serif' font-size="43.5" font-weight="normal" text-anchor="middle" fill="#000">400</text>
<text transform="translate(382.5,1080.2) scale(0.92,1)" font-family='"Liberation Sans", Arial, sans-serif' font-size="43.5" font-weight="normal" text-anchor="middle" fill="#000">450</text>
<text transform="translate(532.3,1080.2) scale(0.92,1)" font-family='"Liberation Sans", Arial, sans-serif' font-size="43.5" font-weight="normal" text-anchor="middle" fill="#000">500</text>
<text transform="translate(682.1,1080.2) scale(0.92,1)" font-family='"Liberation Sans", Arial, sans-serif' font-size="43.5" font-weight="normal" text-anchor="middle" fill="#000">550</text>
<text transform="translate(832,1080.2) scale(0.92,1)" font-family='"Liberation Sans", Arial, sans-serif' font-size="43.5" font-weight="normal" text-anchor="middle" fill="#000">600</text>
<text transform="translate(981.8,1080.2) scale(0.92,1)" font-family='"Liberation Sans", Arial, sans-serif' font-size="43.5" font-weight="normal" text-anchor="middle" fill="#000">650</text>
<text transform="translate(1131.6,1080.2) scale(0.92,1)" font-family='"Liberation Sans", Arial, sans-serif' font-size="43.5" font-weight="normal" text-anchor="middle" fill="#000">700</text>
<text transform="translate(208.4,1031.3) scale(0.92,1)" font-family='"Liberation Sans", Arial, sans-serif' font-size="43.5" font-weight="normal" text-anchor="end" fill="#000">0</text>
<text transform="translate(208.4,898.6) scale(0.92,1)" font-family='"Liberation Sans", Arial, sans-serif' font-size="43.5" font-weight="normal" text-anchor="end" fill="#000">20</text>
<text transform="translate(208.4,765.9) scale(0.92,1)" font-family='"Liberation Sans", Arial, sans-serif' font-size="43.5" font-weight="normal" text-anchor="end" fill="#000">40</text>
<text transform="translate(208.4,633.2) scale(0.92,1)" font-family='"Liberation Sans", Arial, sans-serif' font-size="43.5" font-weight="normal" text-anchor="end" fill="#000">60</text>
<text transform="translate(208.4,500.5) scale(0.92,1)" font-family='"Liberation Sans", Arial, sans-serif' font-size="43.5" font-weight="normal" text-anchor="end" fill="#000">80</text>
<text transform="translate(208.4,367.8) scale(0.92,1)" font-family='"Liberation Sans", Arial, sans-serif' font-size="43.5" font-weight="normal" text-anchor="end" fill="#000">100</text>
<text transform="translate(208.4,235.1) scale(0.92,1)" font-family='"Liberation Sans", Arial, sans-serif' font-size="43.5" font-weight="normal" text-anchor="end" fill="#000">120</text>
<text transform="translate(208.4,102.4) scale(0.92,1)" font-family='"Liberation Sans", Arial, sans-serif' font-size="43.5" font-weight="normal" text-anchor="end" fill="#000">140</text>
<text transform="translate(627,1162.2) scale(0.92,1)" font-size="48" fill="#000"><tspan font-family='"Liberation Serif", "Times New Roman", serif' font-size="46.5">λ</tspan><tspan font-family='"Liberation Sans", Arial, sans-serif' font-weight="bold"> /nm</tspan></text>
<text transform="translate(60.6,510) scale(0.92,1) rotate(-90)" font-family='"Liberation Sans", Arial, sans-serif' font-size="50.1" font-weight="bold" text-anchor="middle" fill="#000" xml:space="preserve">FL intensity  (a.u.)</text>
<text transform="translate(918.3,98.2) scale(0.87,1)" font-family='"Liberation Sans", Arial, sans-serif' font-size="48.5" font-weight="bold" fill="#000"><tspan font-style="italic" font-size="50">f</tspan><tspan font-size="28.5" font-weight="normal" dy="15.5" dx="-2.5">Et</tspan><tspan dy="-15.5" dx="5">(vol%)</tspan></text>
<rect x="936.9" y="165.8" width="135.1" height="532.4" fill="#fff" stroke="#6e6e6e" stroke-width="2.4"/>
<line x1="935.7" y1="165.8" x2="1073.2" y2="165.8" stroke="#5a5a5a" stroke-width="3.6"/>
<line x1="935.7" y1="698.2" x2="1073.2" y2="698.2" stroke="#6a6a6a" stroke-width="3.4"/>
<line x1="941" y1="193.7" x2="1023" y2="193.7" stroke="#000000" stroke-width="3.8"/>
<text transform="translate(1031,207) scale(0.92,1)" font-family='"Liberation Sans", Arial, sans-serif' font-size="38" font-weight="normal" text-anchor="start" fill="#000">0</text>
<line x1="941" y1="241.9" x2="1023" y2="241.9" stroke="#ff0000" stroke-width="3.8"/>
<text transform="translate(1031,255.2) scale(0.92,1)" font-family='"Liberation Sans", Arial, sans-serif' font-size="38" font-weight="normal" text-anchor="start" fill="#000">10</text>
<line x1="941" y1="290.1" x2="1023" y2="290.1" stroke="#0000ff" stroke-width="3.8"/>
<text transform="translate(1031,303.4) scale(0.92,1)" font-family='"Liberation Sans", Arial, sans-serif' font-size="38" font-weight="normal" text-anchor="start" fill="#000">20</text>
<line x1="941" y1="338.4" x2="1023" y2="338.4" stroke="#008080" stroke-width="3.8"/>
<text transform="translate(1031,351.7) scale(0.92,1)" font-family='"Liberation Sans", Arial, sans-serif' font-size="38" font-weight="normal" text-anchor="start" fill="#000">30</text>
<line x1="941" y1="386.6" x2="1023" y2="386.6" stroke="#ff00ff" stroke-width="3.8"/>
<text transform="translate(1031,399.9) scale(0.92,1)" font-family='"Liberation Sans", Arial, sans-serif' font-size="38" font-weight="normal" text-anchor="start" fill="#000">40</text>
<line x1="941" y1="434.8" x2="1023" y2="434.8" stroke="#808000" stroke-width="3.8"/>
<text transform="translate(1031,448.1) scale(0.92,1)" font-family='"Liberation Sans", Arial, sans-serif' font-size="38" font-weight="normal" text-anchor="start" fill="#000">50</text>
<line x1="941" y1="483" x2="1023" y2="483" stroke="#1c1c78" stroke-width="3.8"/>
<text transform="translate(1031,496.3) scale(0.92,1)" font-family='"Liberation Sans", Arial, sans-serif' font-size="38" font-weight="normal" text-anchor="start" fill="#000">60</text>
<line x1="941" y1="531.2" x2="1023" y2="531.2" stroke="#800000" stroke-width="3.8"/>
<text transform="translate(1031,544.5) scale(0.92,1)" font-family='"Liberation Sans", Arial, sans-serif' font-size="38" font-weight="normal" text-anchor="start" fill="#000">70</text>
<line x1="941" y1="579.5" x2="1023" y2="579.5" stroke="#ff0080" stroke-width="3.8"/>
<text transform="translate(1031,592.8) scale(0.92,1)" font-family='"Liberation Sans", Arial, sans-serif' font-size="38" font-weight="normal" text-anchor="start" fill="#000">80</text>
<line x1="941" y1="627.7" x2="1023" y2="627.7" stroke="#008000" stroke-width="3.8"/>
<text transform="translate(1031,641) scale(0.92,1)" font-family='"Liberation Sans", Arial, sans-serif' font-size="38" font-weight="normal" text-anchor="start" fill="#000">90</text>
<line x1="941" y1="675.9" x2="1023" y2="675.9" stroke="#0000a0" stroke-width="3.8"/>
<text transform="translate(1031,689.2) scale(0.92,1)" font-family='"Liberation Sans", Arial, sans-serif' font-size="38" font-weight="normal" text-anchor="start" fill="#000">99</text>
<text transform="translate(17,126.5) scale(0.97,1)" font-family='"Liberation Serif", "Times New Roman", serif' font-size="117" font-weight="bold" text-anchor="start" fill="#000">a</text>
<clipPath id="clipc"><rect x="232.7" y="1208.7" width="898.9" height="996.4"/></clipPath>
<g clip-path="url(#clipc)" fill="none" stroke-width="2.8" stroke-linejoin="round">
<path d="M232.7,2109.8 235.7,2105.8 238.7,2102.7 241.7,2098.6 244.7,2093.8 247.7,2088.4 250.7,2082.4 253.7,2076.1 256.7,2069.5 259.7,2063 262.7,2056.8 265.7,2050.9 268.7,2045.5 271.7,2040.5 274.6,2035.9 277.6,2031.8 280.6,2028.1 283.6,2024.8 286.6,2021.9 289.6,2019.3 292.6,2017.1 295.6,2015.2 298.6,2013.6 301.6,2012.1 304.6,2010.8 307.6,2009.5 310.6,2008.2 313.6,2007 316.6,2005.8 319.6,2004.5 322.6,2003.3 325.6,2002.1 328.6,2000.8 331.6,1999.6 334.6,1998.4 337.6,1997.1 340.6,1995.8 343.6,1994.4 346.6,1992.9 349.6,1991.4 352.6,1989.7 355.5,1987.9 358.5,1986 361.5,1984.1 364.5,1982 367.5,1980 370.5,1978 373.5,1976.1 376.5,1974.3 379.5,1972.7 382.5,1971.3 385.5,1970.1 388.5,1969.1 391.5,1968.3 394.5,1967.7 397.5,1967.4 400.5,1967.3 403.5,1967.3 406.5,1967.5 409.5,1967.9 412.5,1968.3 415.5,1968.8 418.5,1969.4 421.5,1970.1 424.5,1970.9 427.5,1971.8 430.5,1972.7 433.5,1973.6 436.5,1974.6 439.4,1975.5 442.4,1976.5 445.4,1977.4 448.4,1978.4 451.4,1979.3 454.4,1980.3 457.4,1981.2 460.4,1982.1 463.4,1983 466.4,1983.9 469.4,1984.7 472.4,1985.5 475.4,1986.2 478.4,1987 481.4,1987.6 484.4,1988.3 487.4,1988.9 490.4,1989.5 493.4,1990.1 496.4,1990.7 499.4,1991.2 502.4,1991.7 505.4,1992.2 508.4,1992.6 511.4,1993.1 514.4,1993.5 517.4,1993.9 520.3,1994.2 523.3,1994.5 526.3,1994.7 529.3,1994.8 532.3,1994.8 535.3,1994.8 538.3,1994.7 541.3,1994.5 544.3,1994.2 547.3,1993.9 550.3,1993.5 553.3,1993.1 556.3,1992.6 559.3,1992.2 562.3,1991.7 565.3,1991.2 568.3,1990.7 571.3,1990.2 574.3,1989.7 577.3,1989.1 580.3,1988.6 583.3,1988.1 586.3,1987.6 589.3,1987.1 592.3,1986.7 595.3,1986.3 598.3,1985.9 601.2,1985.5 604.2,1985.1 607.2,1984.8 610.2,1984.4 613.2,1984.1 616.2,1983.7 619.2,1983.4 622.2,1983 625.2,1982.6 628.2,1982.2 631.2,1981.8 634.2,1981.5 637.2,1981.4 640.2,1981.3 643.2,1981.4 646.2,1981.5 649.2,1981.7 652.2,1982 655.2,1982.3 658.2,1982.7 661.2,1983.1 664.2,1983.6 667.2,1984.1 670.2,1984.7 673.2,1985.4 676.2,1986.1 679.2,1987 682.1,1987.8 685.1,1988.8 688.1,1989.9 691.1,1991.1 694.1,1992.5 697.1,1993.9 700.1,1995.4 703.1,1997 706.1,1998.7 709.1,2000.5 712.1,2002.3 715.1,2004.3 718.1,2006.3 721.1,2008.5 724.1,2010.7 727.1,2013 730.1,2015.4 733.1,2017.8 736.1,2020.2 739.1,2022.6 742.1,2025 745.1,2027.4 748.1,2029.9 751.1,2032.3 754.1,2034.7 757.1,2037.2 760.1,2039.7 763.1,2042.1 766,2044.6 769,2047.2 772,2049.7 775,2052.3 778,2054.9 781,2057.5 784,2060.1 787,2062.7 790,2065.4 793,2068 796,2070.6 799,2073.2 802,2075.7 805,2078.2 808,2080.7 811,2083.2 814,2085.6 817,2088 820,2090.4 823,2092.8 826,2095.1 829,2097.4 832,2099.6 835,2101.8 838,2104 841,2106.2 844,2108.3 846.9,2110.4 849.9,2112.4 852.9,2114.4 855.9,2116.4 858.9,2118.4 861.9,2120.3 864.9,2122.1 867.9,2124 870.9,2125.8 873.9,2127.5 876.9,2129.3 879.9,2131 882.9,2132.7 885.9,2134.4 888.9,2136 891.9,2137.7 894.9,2139.3 897.9,2141 900.9,2142.6 903.9,2144.2 906.9,2145.8 909.9,2147.4 912.9,2148.9 915.9,2150.4 918.9,2151.8 921.9,2153.2 924.9,2154.6 927.8,2155.9 930.8,2157.2 933.8,2158.5 936.8,2159.7 939.8,2160.9 942.8,2162.1 945.8,2163.3 948.8,2164.5 951.8,2165.6 954.8,2166.7 957.8,2167.8 960.8,2168.9 963.8,2170 966.8,2171.1 969.8,2172.1 972.8,2173.1 975.8,2174.1 978.8,2175.1 981.8,2176.1 984.8,2177 987.8,2177.9 990.8,2178.8 993.8,2179.7 996.8,2180.5 999.8,2181.4 1002.8,2182.2 1005.8,2182.9 1008.8,2183.7 1011.7,2184.4 1014.7,2185.1 1017.7,2185.8 1020.7,2186.5 1023.7,2187.1 1026.7,2187.8 1029.7,2188.4 1032.7,2188.9 1035.7,2189.5 1038.7,2190.1 1041.7,2190.6 1044.7,2191.1 1047.7,2191.6 1050.7,2192 1053.7,2192.5 1056.7,2192.9 1059.7,2193.4 1062.7,2193.8 1065.7,2194.2 1068.7,2194.6 1071.7,2194.9 1074.7,2195.3 1077.7,2195.7 1080.7,2196 1083.7,2196.4 1086.7,2196.7 1089.7,2197 1092.6,2197.3 1095.6,2197.6 1098.6,2197.9 1101.6,2198.2 1104.6,2198.5 1107.6,2198.7 1110.6,2199 1113.6,2199.2 1116.6,2199.4 1119.6,2199.6 1122.6,2199.8 1125.6,2200 1128.6,2200.2 1131.6,2200.3" stroke="#000000"/>
<path d="M232.7,2109.8 235.7,2100.3 238.7,2093.7 241.7,2085.8 244.7,2077.1 247.7,2068 250.7,2058.4 253.7,2048.6 256.7,2038.7 259.7,2028.9 262.7,2019.3 265.7,2010.1 268.7,2001.2 271.7,1992.9 274.6,1985.2 277.6,1978.2 280.6,1971.9 283.6,1966.3 286.6,1961.3 289.6,1957 292.6,1953.3 295.6,1950.1 298.6,1947.3 301.6,1944.8 304.6,1942.5 307.6,1940.2 310.6,1938 313.6,1935.7 316.6,1933.4 319.6,1931 322.6,1928.6 325.6,1926.1 328.6,1923.6 331.6,1921.1 334.6,1918.5 337.6,1916 340.6,1913.5 343.6,1911 346.6,1908.6 349.6,1906.1 352.6,1903.7 355.5,1901.3 358.5,1899 361.5,1896.9 364.5,1895 367.5,1893.5 370.5,1892.3 373.5,1891.7 376.5,1891.4 379.5,1891.5 382.5,1891.9 385.5,1892.5 388.5,1893.3 391.5,1894.3 394.5,1895.4 397.5,1896.6 400.5,1898 403.5,1899.5 406.5,1901.2 409.5,1903 412.5,1904.8 415.5,1906.8 418.5,1908.7 421.5,1910.8 424.5,1912.9 427.5,1915 430.5,1917.1 433.5,1919.3 436.5,1921.5 439.4,1923.6 442.4,1925.7 445.4,1927.9 448.4,1930 451.4,1932.1 454.4,1934.1 457.4,1936.2 460.4,1938.3 463.4,1940.3 466.4,1942.4 469.4,1944.4 472.4,1946.4 475.4,1948.4 478.4,1950.5 481.4,1952.5 484.4,1954.4 487.4,1956.4 490.4,1958.2 493.4,1960 496.4,1961.7 499.4,1963.3 502.4,1964.8 505.4,1966.1 508.4,1967.4 511.4,1968.6 514.4,1969.7 517.4,1970.7 520.3,1971.6 523.3,1972.4 526.3,1973.1 529.3,1973.7 532.3,1974.2 535.3,1974.6 538.3,1974.9 541.3,1975.1 544.3,1975.2 547.3,1975.2 550.3,1975 553.3,1974.7 556.3,1974.3 559.3,1973.8 562.3,1973.2 565.3,1972.5 568.3,1971.8 571.3,1971 574.3,1970.2 577.3,1969.4 580.3,1968.5 583.3,1967.6 586.3,1966.7 589.3,1965.8 592.3,1964.9 595.3,1964 598.3,1963.1 601.2,1962.1 604.2,1961.2 607.2,1960.3 610.2,1959.4 613.2,1958.5 616.2,1957.6 619.2,1956.7 622.2,1955.9 625.2,1955 628.2,1954.2 631.2,1953.3 634.2,1952.5 637.2,1951.7 640.2,1951 643.2,1950.2 646.2,1949.5 649.2,1948.9 652.2,1948.3 655.2,1947.7 658.2,1947.1 661.2,1946.6 664.2,1946.2 667.2,1945.9 670.2,1945.6 673.2,1945.5 676.2,1945.6 679.2,1945.8 682.1,1946.2 685.1,1946.8 688.1,1947.4 691.1,1948.2 694.1,1949.1 697.1,1950.1 700.1,1951.2 703.1,1952.4 706.1,1953.8 709.1,1955.2 712.1,1956.7 715.1,1958.4 718.1,1960.3 721.1,1962.2 724.1,1964.4 727.1,1966.7 730.1,1969 733.1,1971.5 736.1,1974.1 739.1,1976.8 742.1,1979.5 745.1,1982.3 748.1,1985.2 751.1,1988.2 754.1,1991.3 757.1,1994.5 760.1,1997.7 763.1,2000.9 766,2004.1 769,2007.3 772,2010.5 775,2013.7 778,2016.9 781,2020 784,2023.1 787,2026.3 790,2029.4 793,2032.5 796,2035.6 799,2038.6 802,2041.7 805,2044.7 808,2047.7 811,2050.7 814,2053.7 817,2056.7 820,2059.6 823,2062.6 826,2065.5 829,2068.5 832,2071.4 835,2074.4 838,2077.3 841,2080.2 844,2083.1 846.9,2086 849.9,2088.8 852.9,2091.6 855.9,2094.4 858.9,2097 861.9,2099.6 864.9,2102 867.9,2104.4 870.9,2106.8 873.9,2109.1 876.9,2111.3 879.9,2113.5 882.9,2115.7 885.9,2117.8 888.9,2120 891.9,2122.1 894.9,2124.3 897.9,2126.5 900.9,2128.7 903.9,2130.8 906.9,2133 909.9,2135.1 912.9,2137.2 915.9,2139.2 918.9,2141.2 921.9,2143.1 924.9,2144.9 927.8,2146.7 930.8,2148.5 933.8,2150.2 936.8,2151.8 939.8,2153.4 942.8,2155 945.8,2156.5 948.8,2158 951.8,2159.4 954.8,2160.8 957.8,2162.2 960.8,2163.5 963.8,2164.8 966.8,2166.1 969.8,2167.4 972.8,2168.6 975.8,2169.8 978.8,2171 981.8,2172.1 984.8,2173.2 987.8,2174.3 990.8,2175.4 993.8,2176.5 996.8,2177.5 999.8,2178.6 1002.8,2179.5 1005.8,2180.5 1008.8,2181.4 1011.7,2182.2 1014.7,2183 1017.7,2183.8 1020.7,2184.6 1023.7,2185.3 1026.7,2186 1029.7,2186.7 1032.7,2187.3 1035.7,2187.9 1038.7,2188.5 1041.7,2189.1 1044.7,2189.7 1047.7,2190.3 1050.7,2190.8 1053.7,2191.4 1056.7,2191.9 1059.7,2192.4 1062.7,2192.9 1065.7,2193.3 1068.7,2193.8 1071.7,2194.2 1074.7,2194.6 1077.7,2195 1080.7,2195.3 1083.7,2195.7 1086.7,2196 1089.7,2196.3 1092.6,2196.6 1095.6,2196.9 1098.6,2197.2 1101.6,2197.5 1104.6,2197.7 1107.6,2198 1110.6,2198.2 1113.6,2198.4 1116.6,2198.7 1119.6,2198.9 1122.6,2199.1 1125.6,2199.3 1128.6,2199.4 1131.6,2199.5" stroke="#ff0000"/>
<path d="M232.7,2143.1 235.7,2140.7 238.7,2139 241.7,2137 244.7,2134.8 247.7,2132.4 250.7,2129.9 253.7,2127.2 256.7,2124.3 259.7,2121.2 262.7,2117.8 265.7,2114.2 268.7,2110.5 271.7,2106.8 274.6,2103.4 277.6,2100.3 280.6,2097.7 283.6,2095.6 286.6,2093.9 289.6,2092.6 292.6,2091.8 295.6,2091.3 298.6,2091.1 301.6,2091 304.6,2091 307.6,2091 310.6,2091.1 313.6,2091.2 316.6,2091.2 319.6,2091.3 322.6,2091.3 325.6,2091.2 328.6,2091.1 331.6,2091 334.6,2090.8 337.6,2090.6 340.6,2090.3 343.6,2090 346.6,2089.7 349.6,2089.5 352.6,2089.2 355.5,2088.9 358.5,2088.5 361.5,2088.2 364.5,2087.9 367.5,2087.6 370.5,2087.2 373.5,2086.9 376.5,2086.6 379.5,2086.2 382.5,2085.9 385.5,2085.6 388.5,2085.3 391.5,2085 394.5,2084.7 397.5,2084.4 400.5,2084.1 403.5,2083.9 406.5,2083.6 409.5,2083.3 412.5,2083 415.5,2082.7 418.5,2082.4 421.5,2082.1 424.5,2081.8 427.5,2081.5 430.5,2081.2 433.5,2080.9 436.5,2080.5 439.4,2080.1 442.4,2079.7 445.4,2079.3 448.4,2078.8 451.4,2078.3 454.4,2077.7 457.4,2077.1 460.4,2076.5 463.4,2075.8 466.4,2075.1 469.4,2074.3 472.4,2073.5 475.4,2072.6 478.4,2071.7 481.4,2070.7 484.4,2069.7 487.4,2068.6 490.4,2067.4 493.4,2066.2 496.4,2064.9 499.4,2063.6 502.4,2062.3 505.4,2060.9 508.4,2059.4 511.4,2057.9 514.4,2056.3 517.4,2054.7 520.3,2053 523.3,2051.2 526.3,2049.4 529.3,2047.5 532.3,2045.6 535.3,2043.6 538.3,2041.5 541.3,2039.3 544.3,2037.1 547.3,2034.8 550.3,2032.5 553.3,2030.1 556.3,2027.7 559.3,2025.3 562.3,2022.8 565.3,2020.3 568.3,2017.8 571.3,2015.3 574.3,2012.8 577.3,2010.2 580.3,2007.7 583.3,2005.3 586.3,2002.9 589.3,2000.6 592.3,1998.3 595.3,1996.2 598.3,1994.1 601.2,1992.1 604.2,1990.2 607.2,1988.3 610.2,1986.4 613.2,1984.4 616.2,1982.5 619.2,1980.6 622.2,1978.6 625.2,1976.5 628.2,1974.4 631.2,1972.2 634.2,1970.1 637.2,1967.9 640.2,1965.9 643.2,1963.9 646.2,1962.1 649.2,1960.4 652.2,1959 655.2,1957.6 658.2,1956.4 661.2,1955.3 664.2,1954.4 667.2,1953.5 670.2,1952.7 673.2,1952 676.2,1951.4 679.2,1950.9 682.1,1950.5 685.1,1950.1 688.1,1949.8 691.1,1949.6 694.1,1949.5 697.1,1949.6 700.1,1949.8 703.1,1950.3 706.1,1951 709.1,1951.8 712.1,1952.8 715.1,1953.9 718.1,1955.2 721.1,1956.7 724.1,1958.4 727.1,1960.2 730.1,1962.2 733.1,1964.3 736.1,1966.5 739.1,1968.8 742.1,1971.2 745.1,1973.8 748.1,1976.4 751.1,1979.3 754.1,1982.2 757.1,1985.2 760.1,1988.4 763.1,1991.5 766,1994.7 769,1997.9 772,2001.1 775,2004.3 778,2007.6 781,2010.8 784,2014 787,2017.3 790,2020.5 793,2023.7 796,2027 799,2030.2 802,2033.3 805,2036.5 808,2039.6 811,2042.8 814,2045.9 817,2048.9 820,2052 823,2055.1 826,2058.1 829,2061.1 832,2064.2 835,2067.1 838,2070.1 841,2073.1 844,2076.1 846.9,2079 849.9,2081.9 852.9,2084.7 855.9,2087.6 858.9,2090.4 861.9,2093.1 864.9,2095.8 867.9,2098.4 870.9,2101.1 873.9,2103.6 876.9,2106.1 879.9,2108.6 882.9,2111.1 885.9,2113.5 888.9,2115.8 891.9,2118.1 894.9,2120.3 897.9,2122.5 900.9,2124.7 903.9,2126.8 906.9,2128.9 909.9,2130.9 912.9,2132.9 915.9,2134.9 918.9,2136.8 921.9,2138.8 924.9,2140.7 927.8,2142.6 930.8,2144.4 933.8,2146.2 936.8,2148 939.8,2149.8 942.8,2151.5 945.8,2153.2 948.8,2154.9 951.8,2156.5 954.8,2158.1 957.8,2159.6 960.8,2161.2 963.8,2162.6 966.8,2164.1 969.8,2165.5 972.8,2166.8 975.8,2168.1 978.8,2169.4 981.8,2170.6 984.8,2171.8 987.8,2172.9 990.8,2174 993.8,2175.1 996.8,2176.1 999.8,2177.1 1002.8,2178.1 1005.8,2179 1008.8,2179.9 1011.7,2180.8 1014.7,2181.7 1017.7,2182.5 1020.7,2183.3 1023.7,2184.1 1026.7,2184.9 1029.7,2185.6 1032.7,2186.4 1035.7,2187.1 1038.7,2187.7 1041.7,2188.4 1044.7,2189 1047.7,2189.7 1050.7,2190.3 1053.7,2190.8 1056.7,2191.4 1059.7,2191.9 1062.7,2192.5 1065.7,2192.9 1068.7,2193.4 1071.7,2193.8 1074.7,2194.2 1077.7,2194.6 1080.7,2195 1083.7,2195.3 1086.7,2195.7 1089.7,2196 1092.6,2196.3 1095.6,2196.6 1098.6,2196.8 1101.6,2197.1 1104.6,2197.4 1107.6,2197.7 1110.6,2197.9 1113.6,2198.2 1116.6,2198.4 1119.6,2198.7 1122.6,2198.9 1125.6,2199.2 1128.6,2199.4 1131.6,2199.5" stroke="#0000ff"/>
<path d="M232.7,2131.6 235.7,2128.7 238.7,2126.6 241.7,2124 244.7,2121 247.7,2117.8 250.7,2114.4 253.7,2110.8 256.7,2107.1 259.7,2103.4 262.7,2099.9 265.7,2096.5 268.7,2093.4 271.7,2090.5 274.6,2087.9 277.6,2085.6 280.6,2083.6 283.6,2082 286.6,2080.7 289.6,2079.7 292.6,2079 295.6,2078.6 298.6,2078.4 301.6,2078.3 304.6,2078.3 307.6,2078.3 310.6,2078.2 313.6,2078.2 316.6,2078.1 319.6,2078 322.6,2077.9 325.6,2077.7 328.6,2077.4 331.6,2077.2 334.6,2076.9 337.6,2076.5 340.6,2076.2 343.6,2075.8 346.6,2075.4 349.6,2075 352.6,2074.7 355.5,2074.3 358.5,2074 361.5,2073.7 364.5,2073.3 367.5,2073 370.5,2072.7 373.5,2072.3 376.5,2072 379.5,2071.7 382.5,2071.4 385.5,2071.1 388.5,2070.8 391.5,2070.5 394.5,2070.2 397.5,2070 400.5,2069.7 403.5,2069.4 406.5,2069.1 409.5,2068.8 412.5,2068.5 415.5,2068.2 418.5,2067.9 421.5,2067.6 424.5,2067.3 427.5,2067 430.5,2066.7 433.5,2066.3 436.5,2066 439.4,2065.6 442.4,2065.2 445.4,2064.8 448.4,2064.4 451.4,2063.9 454.4,2063.5 457.4,2063 460.4,2062.5 463.4,2061.9 466.4,2061.4 469.4,2060.8 472.4,2060.1 475.4,2059.5 478.4,2058.8 481.4,2058.1 484.4,2057.3 487.4,2056.5 490.4,2055.7 493.4,2054.8 496.4,2053.8 499.4,2052.8 502.4,2051.8 505.4,2050.6 508.4,2049.4 511.4,2048.1 514.4,2046.8 517.4,2045.3 520.3,2043.9 523.3,2042.3 526.3,2040.7 529.3,2039 532.3,2037.3 535.3,2035.5 538.3,2033.6 541.3,2031.6 544.3,2029.6 547.3,2027.6 550.3,2025.5 553.3,2023.3 556.3,2021.1 559.3,2018.9 562.3,2016.7 565.3,2014.4 568.3,2012.1 571.3,2009.8 574.3,2007.5 577.3,2005.2 580.3,2002.9 583.3,2000.6 586.3,1998.3 589.3,1996.1 592.3,1993.9 595.3,1991.8 598.3,1989.8 601.2,1987.7 604.2,1985.8 607.2,1983.8 610.2,1981.8 613.2,1979.9 616.2,1977.9 619.2,1975.9 622.2,1973.9 625.2,1971.9 628.2,1969.8 631.2,1967.7 634.2,1965.6 637.2,1963.6 640.2,1961.6 643.2,1959.7 646.2,1958 649.2,1956.4 652.2,1955 655.2,1953.7 658.2,1952.5 661.2,1951.5 664.2,1950.5 667.2,1949.7 670.2,1948.9 673.2,1948.2 676.2,1947.6 679.2,1947 682.1,1946.5 685.1,1946.1 688.1,1945.8 691.1,1945.6 694.1,1945.6 697.1,1945.9 700.1,1946.3 703.1,1946.9 706.1,1947.6 709.1,1948.5 712.1,1949.5 715.1,1950.7 718.1,1952 721.1,1953.6 724.1,1955.3 727.1,1957.1 730.1,1959.1 733.1,1961.3 736.1,1963.5 739.1,1965.9 742.1,1968.3 745.1,1970.9 748.1,1973.5 751.1,1976.4 754.1,1979.3 757.1,1982.3 760.1,1985.4 763.1,1988.6 766,1991.8 769,1995 772,1998.2 775,2001.5 778,2004.8 781,2008.1 784,2011.4 787,2014.7 790,2018 793,2021.3 796,2024.6 799,2027.9 802,2031.2 805,2034.4 808,2037.6 811,2040.7 814,2043.9 817,2047 820,2050.1 823,2053.2 826,2056.3 829,2059.3 832,2062.3 835,2065.4 838,2068.4 841,2071.3 844,2074.3 846.9,2077.2 849.9,2080.1 852.9,2083 855.9,2085.8 858.9,2088.6 861.9,2091.3 864.9,2093.9 867.9,2096.5 870.9,2099.1 873.9,2101.6 876.9,2104.1 879.9,2106.5 882.9,2108.9 885.9,2111.3 888.9,2113.6 891.9,2115.9 894.9,2118.3 897.9,2120.5 900.9,2122.8 903.9,2125 906.9,2127.2 909.9,2129.4 912.9,2131.5 915.9,2133.6 918.9,2135.7 921.9,2137.7 924.9,2139.6 927.8,2141.5 930.8,2143.4 933.8,2145.2 936.8,2147 939.8,2148.7 942.8,2150.5 945.8,2152.2 948.8,2153.8 951.8,2155.4 954.8,2157 957.8,2158.6 960.8,2160.2 963.8,2161.7 966.8,2163.2 969.8,2164.6 972.8,2166 975.8,2167.3 978.8,2168.6 981.8,2169.9 984.8,2171.1 987.8,2172.2 990.8,2173.3 993.8,2174.4 996.8,2175.4 999.8,2176.4 1002.8,2177.3 1005.8,2178.3 1008.8,2179.2 1011.7,2180.1 1014.7,2181 1017.7,2181.8 1020.7,2182.7 1023.7,2183.5 1026.7,2184.3 1029.7,2185.1 1032.7,2185.9 1035.7,2186.6 1038.7,2187.4 1041.7,2188 1044.7,2188.7 1047.7,2189.3 1050.7,2189.9 1053.7,2190.5 1056.7,2191 1059.7,2191.6 1062.7,2192.1 1065.7,2192.6 1068.7,2193 1071.7,2193.5 1074.7,2193.9 1077.7,2194.3 1080.7,2194.7 1083.7,2195.1 1086.7,2195.5 1089.7,2195.8 1092.6,2196.2 1095.6,2196.5 1098.6,2196.8 1101.6,2197.1 1104.6,2197.4 1107.6,2197.7 1110.6,2197.9 1113.6,2198.1 1116.6,2198.4 1119.6,2198.6 1122.6,2198.8 1125.6,2199 1128.6,2199.1 1131.6,2199.2" stroke="#008080"/>
<path d="M232.7,2148.2 235.7,2146.2 238.7,2144.7 241.7,2142.9 244.7,2140.8 247.7,2138.5 250.7,2136 253.7,2133.3 256.7,2130.4 259.7,2127.3 262.7,2124.1 265.7,2120.7 268.7,2117.3 271.7,2114 274.6,2110.9 277.6,2108.2 280.6,2105.9 283.6,2104.1 286.6,2102.6 289.6,2101.5 292.6,2100.8 295.6,2100.4 298.6,2100.1 301.6,2100 304.6,2100 307.6,2100.1 310.6,2100.1 313.6,2100.2 316.6,2100.3 319.6,2100.3 322.6,2100.4 325.6,2100.4 328.6,2100.4 331.6,2100.4 334.6,2100.4 337.6,2100.3 340.6,2100.3 343.6,2100.2 346.6,2100.2 349.6,2100.1 352.6,2100 355.5,2099.9 358.5,2099.8 361.5,2099.7 364.5,2099.6 367.5,2099.4 370.5,2099.3 373.5,2099.1 376.5,2098.9 379.5,2098.8 382.5,2098.6 385.5,2098.4 388.5,2098.2 391.5,2098 394.5,2097.8 397.5,2097.6 400.5,2097.4 403.5,2097.2 406.5,2096.9 409.5,2096.7 412.5,2096.4 415.5,2096.1 418.5,2095.8 421.5,2095.5 424.5,2095.1 427.5,2094.8 430.5,2094.3 433.5,2093.9 436.5,2093.4 439.4,2092.9 442.4,2092.4 445.4,2091.7 448.4,2091.1 451.4,2090.3 454.4,2089.5 457.4,2088.7 460.4,2087.8 463.4,2086.9 466.4,2086 469.4,2085 472.4,2084.1 475.4,2083.1 478.4,2082.1 481.4,2081 484.4,2080 487.4,2078.9 490.4,2077.9 493.4,2076.8 496.4,2075.7 499.4,2074.7 502.4,2073.6 505.4,2072.6 508.4,2071.5 511.4,2070.5 514.4,2069.5 517.4,2068.4 520.3,2067.3 523.3,2066.2 526.3,2064.9 529.3,2063.6 532.3,2062.2 535.3,2060.7 538.3,2059 541.3,2057.3 544.3,2055.4 547.3,2053.5 550.3,2051.6 553.3,2049.6 556.3,2047.6 559.3,2045.5 562.3,2043.5 565.3,2041.5 568.3,2039.5 571.3,2037.5 574.3,2035.6 577.3,2033.6 580.3,2031.6 583.3,2029.7 586.3,2027.7 589.3,2025.9 592.3,2024 595.3,2022.1 598.3,2020.3 601.2,2018.5 604.2,2016.8 607.2,2015 610.2,2013.3 613.2,2011.6 616.2,2009.9 619.2,2008.2 622.2,2006.6 625.2,2004.9 628.2,2003.3 631.2,2001.6 634.2,2000 637.2,1998.5 640.2,1997 643.2,1995.6 646.2,1994.2 649.2,1993 652.2,1991.8 655.2,1990.8 658.2,1989.8 661.2,1988.8 664.2,1988 667.2,1987.2 670.2,1986.5 673.2,1985.9 676.2,1985.4 679.2,1984.9 682.1,1984.6 685.1,1984.3 688.1,1984.1 691.1,1983.9 694.1,1983.9 697.1,1983.9 700.1,1984 703.1,1984.3 706.1,1984.6 709.1,1985.1 712.1,1985.7 715.1,1986.4 718.1,1987.3 721.1,1988.3 724.1,1989.4 727.1,1990.6 730.1,1992 733.1,1993.4 736.1,1995 739.1,1996.6 742.1,1998.4 745.1,2000.2 748.1,2002.1 751.1,2004.2 754.1,2006.3 757.1,2008.6 760.1,2010.9 763.1,2013.3 766,2015.7 769,2018.2 772,2020.7 775,2023.3 778,2025.9 781,2028.6 784,2031.3 787,2034.1 790,2036.8 793,2039.6 796,2042.3 799,2045.1 802,2047.8 805,2050.6 808,2053.3 811,2056 814,2058.7 817,2061.4 820,2064 823,2066.7 826,2069.4 829,2072 832,2074.7 835,2077.3 838,2079.9 841,2082.6 844,2085.2 846.9,2087.8 849.9,2090.3 852.9,2092.9 855.9,2095.4 858.9,2097.9 861.9,2100.4 864.9,2102.8 867.9,2105.2 870.9,2107.5 873.9,2109.8 876.9,2112.1 879.9,2114.4 882.9,2116.6 885.9,2118.9 888.9,2121 891.9,2123.2 894.9,2125.3 897.9,2127.4 900.9,2129.5 903.9,2131.5 906.9,2133.6 909.9,2135.5 912.9,2137.5 915.9,2139.4 918.9,2141.3 921.9,2143.1 924.9,2144.9 927.8,2146.6 930.8,2148.3 933.8,2150 936.8,2151.7 939.8,2153.3 942.8,2154.8 945.8,2156.4 948.8,2157.9 951.8,2159.4 954.8,2160.9 957.8,2162.4 960.8,2163.8 963.8,2165.2 966.8,2166.6 969.8,2167.9 972.8,2169.2 975.8,2170.4 978.8,2171.6 981.8,2172.8 984.8,2173.9 987.8,2175 990.8,2176 993.8,2177 996.8,2177.9 999.8,2178.9 1002.8,2179.7 1005.8,2180.6 1008.8,2181.4 1011.7,2182.2 1014.7,2183 1017.7,2183.8 1020.7,2184.5 1023.7,2185.2 1026.7,2185.9 1029.7,2186.6 1032.7,2187.3 1035.7,2187.9 1038.7,2188.5 1041.7,2189.1 1044.7,2189.7 1047.7,2190.3 1050.7,2190.8 1053.7,2191.4 1056.7,2191.9 1059.7,2192.4 1062.7,2192.9 1065.7,2193.3 1068.7,2193.8 1071.7,2194.2 1074.7,2194.6 1077.7,2195 1080.7,2195.3 1083.7,2195.7 1086.7,2196 1089.7,2196.3 1092.6,2196.6 1095.6,2196.9 1098.6,2197.2 1101.6,2197.5 1104.6,2197.7 1107.6,2198 1110.6,2198.2 1113.6,2198.4 1116.6,2198.7 1119.6,2198.9 1122.6,2199.1 1125.6,2199.3 1128.6,2199.4 1131.6,2199.6" stroke="#ff00ff"/>
<path d="M232.7,2137.7 235.7,2136 238.7,2134.6 241.7,2132.9 244.7,2130.7 247.7,2128.2 250.7,2125.4 253.7,2122.3 256.7,2119 259.7,2115.5 262.7,2112 265.7,2108.4 268.7,2104.9 271.7,2101.6 274.6,2098.5 277.6,2095.9 280.6,2093.7 283.6,2091.8 286.6,2090.4 289.6,2089.2 292.6,2088.4 295.6,2087.9 298.6,2087.5 301.6,2087.2 304.6,2087.1 307.6,2087.1 310.6,2087.1 313.6,2087.1 316.6,2087.2 319.6,2087.3 322.6,2087.3 325.6,2087.3 328.6,2087.3 331.6,2087.3 334.6,2087.3 337.6,2087.2 340.6,2087.1 343.6,2087 346.6,2086.9 349.6,2086.7 352.6,2086.6 355.5,2086.4 358.5,2086.3 361.5,2086.1 364.5,2085.8 367.5,2085.6 370.5,2085.4 373.5,2085.1 376.5,2084.9 379.5,2084.7 382.5,2084.5 385.5,2084.3 388.5,2084.1 391.5,2083.9 394.5,2083.7 397.5,2083.5 400.5,2083.4 403.5,2083.2 406.5,2083 409.5,2082.8 412.5,2082.6 415.5,2082.4 418.5,2082.3 421.5,2082.1 424.5,2081.9 427.5,2081.6 430.5,2081.4 433.5,2081.2 436.5,2081 439.4,2080.7 442.4,2080.4 445.4,2080.2 448.4,2079.9 451.4,2079.6 454.4,2079.2 457.4,2078.9 460.4,2078.5 463.4,2078.1 466.4,2077.7 469.4,2077.3 472.4,2076.8 475.4,2076.3 478.4,2075.8 481.4,2075.3 484.4,2074.7 487.4,2074.1 490.4,2073.5 493.4,2072.8 496.4,2072.1 499.4,2071.4 502.4,2070.6 505.4,2069.9 508.4,2069.1 511.4,2068.2 514.4,2067.4 517.4,2066.4 520.3,2065.5 523.3,2064.5 526.3,2063.4 529.3,2062.3 532.3,2061.2 535.3,2060 538.3,2058.7 541.3,2057.4 544.3,2056 547.3,2054.6 550.3,2053.1 553.3,2051.6 556.3,2050 559.3,2048.4 562.3,2046.7 565.3,2045 568.3,2043.3 571.3,2041.5 574.3,2039.7 577.3,2037.8 580.3,2036 583.3,2034.2 586.3,2032.5 589.3,2030.8 592.3,2029.1 595.3,2027.5 598.3,2026 601.2,2024.5 604.2,2023 607.2,2021.6 610.2,2020.2 613.2,2018.9 616.2,2017.7 619.2,2016.5 622.2,2015.3 625.2,2014.2 628.2,2013.1 631.2,2012.1 634.2,2011.1 637.2,2010.1 640.2,2009.2 643.2,2008.4 646.2,2007.6 649.2,2006.9 652.2,2006.3 655.2,2005.7 658.2,2005.1 661.2,2004.6 664.2,2004.2 667.2,2003.8 670.2,2003.4 673.2,2003 676.2,2002.7 679.2,2002.5 682.1,2002.3 685.1,2002.1 688.1,2002 691.1,2002 694.1,2002.2 697.1,2002.4 700.1,2002.9 703.1,2003.4 706.1,2004 709.1,2004.8 712.1,2005.6 715.1,2006.5 718.1,2007.5 721.1,2008.6 724.1,2009.9 727.1,2011.2 730.1,2012.6 733.1,2014.1 736.1,2015.7 739.1,2017.3 742.1,2019 745.1,2020.7 748.1,2022.6 751.1,2024.5 754.1,2026.5 757.1,2028.5 760.1,2030.6 763.1,2032.8 766,2035 769,2037.3 772,2039.6 775,2041.9 778,2044.3 781,2046.7 784,2049.1 787,2051.6 790,2054.1 793,2056.6 796,2059.1 799,2061.6 802,2064.2 805,2066.7 808,2069.2 811,2071.7 814,2074.3 817,2076.8 820,2079.3 823,2081.8 826,2084.3 829,2086.7 832,2089.1 835,2091.5 838,2093.9 841,2096.3 844,2098.6 846.9,2100.9 849.9,2103.2 852.9,2105.4 855.9,2107.6 858.9,2109.8 861.9,2111.9 864.9,2114 867.9,2116.1 870.9,2118.1 873.9,2120.1 876.9,2122 879.9,2124 882.9,2125.9 885.9,2127.8 888.9,2129.7 891.9,2131.5 894.9,2133.4 897.9,2135.3 900.9,2137.1 903.9,2139 906.9,2140.8 909.9,2142.6 912.9,2144.3 915.9,2146 918.9,2147.6 921.9,2149.2 924.9,2150.8 927.8,2152.2 930.8,2153.6 933.8,2155 936.8,2156.4 939.8,2157.7 942.8,2159 945.8,2160.2 948.8,2161.5 951.8,2162.7 954.8,2163.9 957.8,2165.1 960.8,2166.4 963.8,2167.6 966.8,2168.7 969.8,2169.9 972.8,2171 975.8,2172.1 978.8,2173.2 981.8,2174.3 984.8,2175.3 987.8,2176.3 990.8,2177.3 993.8,2178.2 996.8,2179.1 999.8,2180 1002.8,2180.9 1005.8,2181.7 1008.8,2182.5 1011.7,2183.3 1014.7,2184.1 1017.7,2184.8 1020.7,2185.5 1023.7,2186.2 1026.7,2186.9 1029.7,2187.5 1032.7,2188.1 1035.7,2188.7 1038.7,2189.3 1041.7,2189.9 1044.7,2190.4 1047.7,2190.9 1050.7,2191.4 1053.7,2191.9 1056.7,2192.4 1059.7,2192.9 1062.7,2193.3 1065.7,2193.8 1068.7,2194.2 1071.7,2194.6 1074.7,2195 1077.7,2195.3 1080.7,2195.7 1083.7,2196 1086.7,2196.4 1089.7,2196.7 1092.6,2197 1095.6,2197.3 1098.6,2197.6 1101.6,2197.8 1104.6,2198.1 1107.6,2198.4 1110.6,2198.6 1113.6,2198.8 1116.6,2199 1119.6,2199.3 1122.6,2199.5 1125.6,2199.6 1128.6,2199.8 1131.6,2199.9" stroke="#808000"/>
<path d="M232.7,2093.1 235.7,2091.3 238.7,2089.6 241.7,2087.1 244.7,2083.8 247.7,2080 250.7,2075.4 253.7,2070.4 256.7,2065.1 259.7,2059.7 262.7,2054.5 265.7,2049.5 268.7,2045 271.7,2040.8 274.6,2037.2 277.6,2034.1 280.6,2031.5 283.6,2029.4 286.6,2027.7 289.6,2026.4 292.6,2025.3 295.6,2024.5 298.6,2023.9 301.6,2023.5 304.6,2023.2 307.6,2023 310.6,2023 313.6,2023 316.6,2023.1 319.6,2023.1 322.6,2023.2 325.6,2023.2 328.6,2023.1 331.6,2023 334.6,2022.9 337.6,2022.7 340.6,2022.6 343.6,2022.4 346.6,2022.2 349.6,2022 352.6,2021.8 355.5,2021.6 358.5,2021.4 361.5,2021.2 364.5,2021 367.5,2020.9 370.5,2020.7 373.5,2020.6 376.5,2020.5 379.5,2020.4 382.5,2020.4 385.5,2020.4 388.5,2020.4 391.5,2020.5 394.5,2020.6 397.5,2020.7 400.5,2020.9 403.5,2021.1 406.5,2021.3 409.5,2021.5 412.5,2021.8 415.5,2022.2 418.5,2022.5 421.5,2022.9 424.5,2023.4 427.5,2024 430.5,2024.5 433.5,2025.2 436.5,2025.8 439.4,2026.5 442.4,2027.3 445.4,2028.1 448.4,2028.9 451.4,2029.9 454.4,2030.8 457.4,2031.9 460.4,2032.9 463.4,2034 466.4,2035.1 469.4,2036.2 472.4,2037.4 475.4,2038.5 478.4,2039.7 481.4,2040.9 484.4,2042.1 487.4,2043.3 490.4,2044.5 493.4,2045.8 496.4,2047.1 499.4,2048.4 502.4,2049.7 505.4,2051 508.4,2052.4 511.4,2053.8 514.4,2055.2 517.4,2056.7 520.3,2058.1 523.3,2059.6 526.3,2061.1 529.3,2062.6 532.3,2064.2 535.3,2065.8 538.3,2067.3 541.3,2069 544.3,2070.6 547.3,2072.2 550.3,2073.9 553.3,2075.6 556.3,2077.3 559.3,2079.1 562.3,2080.9 565.3,2082.7 568.3,2084.5 571.3,2086.3 574.3,2088.2 577.3,2090.1 580.3,2092 583.3,2093.9 586.3,2095.8 589.3,2097.7 592.3,2099.7 595.3,2101.6 598.3,2103.5 601.2,2105.5 604.2,2107.4 607.2,2109.4 610.2,2111.3 613.2,2113.2 616.2,2115.1 619.2,2117 622.2,2118.9 625.2,2120.7 628.2,2122.5 631.2,2124.3 634.2,2126.1 637.2,2127.9 640.2,2129.6 643.2,2131.3 646.2,2133 649.2,2134.6 652.2,2136.2 655.2,2137.7 658.2,2139.2 661.2,2140.7 664.2,2142.1 667.2,2143.5 670.2,2144.9 673.2,2146.2 676.2,2147.5 679.2,2148.8 682.1,2150 685.1,2151.2 688.1,2152.4 691.1,2153.5 694.1,2154.6 697.1,2155.7 700.1,2156.8 703.1,2157.8 706.1,2158.9 709.1,2159.9 712.1,2160.9 715.1,2161.8 718.1,2162.8 721.1,2163.7 724.1,2164.6 727.1,2165.5 730.1,2166.4 733.1,2167.3 736.1,2168.2 739.1,2169.1 742.1,2170 745.1,2170.8 748.1,2171.7 751.1,2172.6 754.1,2173.5 757.1,2174.3 760.1,2175.2 763.1,2176 766,2176.8 769,2177.5 772,2178.2 775,2178.9 778,2179.6 781,2180.2 784,2180.9 787,2181.5 790,2182 793,2182.6 796,2183.1 799,2183.6 802,2184.1 805,2184.5 808,2185 811,2185.4 814,2185.8 817,2186.2 820,2186.6 823,2187 826,2187.3 829,2187.7 832,2188.1 835,2188.4 838,2188.8 841,2189.1 844,2189.4 846.9,2189.8 849.9,2190.1 852.9,2190.4 855.9,2190.7 858.9,2191 861.9,2191.3 864.9,2191.6 867.9,2191.9 870.9,2192.2 873.9,2192.4 876.9,2192.7 879.9,2192.9 882.9,2193.2 885.9,2193.4 888.9,2193.6 891.9,2193.9 894.9,2194.1 897.9,2194.3 900.9,2194.5 903.9,2194.7 906.9,2194.8 909.9,2195 912.9,2195.2 915.9,2195.4 918.9,2195.5 921.9,2195.7 924.9,2195.8 927.8,2196 930.8,2196.1 933.8,2196.3 936.8,2196.4 939.8,2196.6 942.8,2196.7 945.8,2196.8 948.8,2197 951.8,2197.1 954.8,2197.3 957.8,2197.4 960.8,2197.6 963.8,2197.7 966.8,2197.9 969.8,2198 972.8,2198.2 975.8,2198.3 978.8,2198.4 981.8,2198.6 984.8,2198.7 987.8,2198.8 990.8,2198.9 993.8,2199 996.8,2199.2 999.8,2199.3 1002.8,2199.4 1005.8,2199.5 1008.8,2199.6 1011.7,2199.7 1014.7,2199.8 1017.7,2199.9 1020.7,2200 1023.7,2200.1 1026.7,2200.2 1029.7,2200.3 1032.7,2200.4 1035.7,2200.4 1038.7,2200.5 1041.7,2200.6 1044.7,2200.7 1047.7,2200.8 1050.7,2200.9 1053.7,2201 1056.7,2201.1 1059.7,2201.2 1062.7,2201.2 1065.7,2201.3 1068.7,2201.4 1071.7,2201.5 1074.7,2201.5 1077.7,2201.6 1080.7,2201.7 1083.7,2201.8 1086.7,2201.8 1089.7,2201.9 1092.6,2201.9 1095.6,2202 1098.6,2202.1 1101.6,2202.1 1104.6,2202.2 1107.6,2202.2 1110.6,2202.3 1113.6,2202.3 1116.6,2202.4 1119.6,2202.4 1122.6,2202.5 1125.6,2202.5 1128.6,2202.5 1131.6,2202.5" stroke="#000080"/>
<path d="M232.7,2112 235.7,2110 238.7,2108.4 241.7,2106.3 244.7,2103.8 247.7,2100.9 250.7,2097.6 253.7,2093.9 256.7,2089.8 259.7,2085.3 262.7,2080.4 265.7,2075.2 268.7,2069.9 271.7,2064.6 274.6,2059.5 277.6,2054.7 280.6,2050.5 283.6,2046.7 286.6,2043.4 289.6,2040.4 292.6,2037.7 295.6,2035.3 298.6,2033.1 301.6,2031 304.6,2029.1 307.6,2027.3 310.6,2025.5 313.6,2023.8 316.6,2022.1 319.6,2020.5 322.6,2019 325.6,2017.5 328.6,2016 331.6,2014.6 334.6,2013.2 337.6,2011.9 340.6,2010.5 343.6,2009 346.6,2007.5 349.6,2005.9 352.6,2004.2 355.5,2002.4 358.5,2000.5 361.5,1998.5 364.5,1996.4 367.5,1994.2 370.5,1992.1 373.5,1989.9 376.5,1987.8 379.5,1985.8 382.5,1983.9 385.5,1982 388.5,1980.2 391.5,1978.4 394.5,1976.8 397.5,1975.1 400.5,1973.5 403.5,1971.9 406.5,1970.3 409.5,1968.6 412.5,1967 415.5,1965.4 418.5,1963.8 421.5,1962.4 424.5,1961.2 427.5,1960.3 430.5,1959.7 433.5,1959.4 436.5,1959.4 439.4,1959.6 442.4,1960 445.4,1960.5 448.4,1961.1 451.4,1961.9 454.4,1962.7 457.4,1963.7 460.4,1964.7 463.4,1965.7 466.4,1966.9 469.4,1968.1 472.4,1969.3 475.4,1970.7 478.4,1972.1 481.4,1973.6 484.4,1975.1 487.4,1976.7 490.4,1978.4 493.4,1980.2 496.4,1981.9 499.4,1983.7 502.4,1985.6 505.4,1987.5 508.4,1989.4 511.4,1991.3 514.4,1993.3 517.4,1995.4 520.3,1997.5 523.3,1999.6 526.3,2001.8 529.3,2004 532.3,2006.3 535.3,2008.6 538.3,2010.9 541.3,2013.3 544.3,2015.8 547.3,2018.3 550.3,2020.8 553.3,2023.4 556.3,2026 559.3,2028.6 562.3,2031.2 565.3,2033.9 568.3,2036.6 571.3,2039.3 574.3,2042 577.3,2044.7 580.3,2047.4 583.3,2050.1 586.3,2052.7 589.3,2055.4 592.3,2057.9 595.3,2060.5 598.3,2063 601.2,2065.4 604.2,2067.9 607.2,2070.3 610.2,2072.6 613.2,2075 616.2,2077.3 619.2,2079.6 622.2,2081.9 625.2,2084.2 628.2,2086.4 631.2,2088.6 634.2,2090.8 637.2,2093 640.2,2095.2 643.2,2097.3 646.2,2099.5 649.2,2101.6 652.2,2103.6 655.2,2105.7 658.2,2107.7 661.2,2109.7 664.2,2111.7 667.2,2113.7 670.2,2115.6 673.2,2117.5 676.2,2119.4 679.2,2121.3 682.1,2123.2 685.1,2125.1 688.1,2126.9 691.1,2128.8 694.1,2130.6 697.1,2132.4 700.1,2134.2 703.1,2135.9 706.1,2137.6 709.1,2139.3 712.1,2140.9 715.1,2142.5 718.1,2144.1 721.1,2145.6 724.1,2147.1 727.1,2148.5 730.1,2150 733.1,2151.4 736.1,2152.7 739.1,2154.1 742.1,2155.4 745.1,2156.8 748.1,2158.1 751.1,2159.4 754.1,2160.7 757.1,2161.9 760.1,2163.1 763.1,2164.3 766,2165.5 769,2166.6 772,2167.7 775,2168.8 778,2169.8 781,2170.9 784,2171.8 787,2172.8 790,2173.7 793,2174.6 796,2175.5 799,2176.3 802,2177.2 805,2178 808,2178.8 811,2179.6 814,2180.3 817,2181.1 820,2181.8 823,2182.5 826,2183.1 829,2183.8 832,2184.4 835,2185 838,2185.6 841,2186.2 844,2186.7 846.9,2187.2 849.9,2187.7 852.9,2188.2 855.9,2188.7 858.9,2189.1 861.9,2189.5 864.9,2189.9 867.9,2190.3 870.9,2190.6 873.9,2190.9 876.9,2191.3 879.9,2191.6 882.9,2191.9 885.9,2192.2 888.9,2192.5 891.9,2192.8 894.9,2193.1 897.9,2193.3 900.9,2193.6 903.9,2193.9 906.9,2194.2 909.9,2194.4 912.9,2194.7 915.9,2194.9 918.9,2195.1 921.9,2195.3 924.9,2195.5 927.8,2195.6 930.8,2195.8 933.8,2195.9 936.8,2196.1 939.8,2196.2 942.8,2196.3 945.8,2196.5 948.8,2196.6 951.8,2196.8 954.8,2196.9 957.8,2197.1 960.8,2197.3 963.8,2197.5 966.8,2197.7 969.8,2197.9 972.8,2198.1 975.8,2198.2 978.8,2198.4 981.8,2198.6 984.8,2198.7 987.8,2198.8 990.8,2199 993.8,2199.1 996.8,2199.2 999.8,2199.3 1002.8,2199.4 1005.8,2199.5 1008.8,2199.6 1011.7,2199.7 1014.7,2199.8 1017.7,2199.9 1020.7,2200 1023.7,2200 1026.7,2200.1 1029.7,2200.2 1032.7,2200.3 1035.7,2200.4 1038.7,2200.5 1041.7,2200.6 1044.7,2200.7 1047.7,2200.8 1050.7,2200.9 1053.7,2201 1056.7,2201.1 1059.7,2201.2 1062.7,2201.2 1065.7,2201.3 1068.7,2201.4 1071.7,2201.5 1074.7,2201.5 1077.7,2201.6 1080.7,2201.7 1083.7,2201.8 1086.7,2201.8 1089.7,2201.9 1092.6,2202 1095.6,2202 1098.6,2202.1 1101.6,2202.1 1104.6,2202.2 1107.6,2202.2 1110.6,2202.3 1113.6,2202.3 1116.6,2202.4 1119.6,2202.4 1122.6,2202.5 1125.6,2202.5 1128.6,2202.5 1131.6,2202.5" stroke="#800000"/>
<path d="M232.7,2068.5 235.7,2063.3 238.7,2059.2 241.7,2054 244.7,2047.9 247.7,2040.9 250.7,2032.9 253.7,2024 256.7,2014.2 259.7,2003.6 262.7,1992.2 265.7,1980.2 268.7,1967.6 271.7,1954.6 274.6,1941.4 277.6,1928.2 280.6,1915.2 283.6,1902.4 286.6,1889.7 289.6,1877.1 292.6,1864.7 295.6,1852.3 298.6,1839.9 301.6,1827.5 304.6,1815.1 307.6,1802.6 310.6,1790 313.6,1777.1 316.6,1763.9 319.6,1750.3 322.6,1736.3 325.6,1721.9 328.6,1707.4 331.6,1692.7 334.6,1678 337.6,1663.4 340.6,1649 343.6,1634.6 346.6,1620.4 349.6,1606 352.6,1591.4 355.5,1576.5 358.5,1561.2 361.5,1545.4 364.5,1529.5 367.5,1513.6 370.5,1497.9 373.5,1482.7 376.5,1468 379.5,1453.9 382.5,1440.4 385.5,1427.5 388.5,1415.5 391.5,1404.3 394.5,1394 397.5,1384.6 400.5,1376.1 403.5,1368.3 406.5,1361.2 409.5,1354.8 412.5,1349.1 415.5,1344 418.5,1339.5 421.5,1335.6 424.5,1332.1 427.5,1329.2 430.5,1326.7 433.5,1324.7 436.5,1323.1 439.4,1322.1 442.4,1321.6 445.4,1321.8 448.4,1322.5 451.4,1323.7 454.4,1325.3 457.4,1327.3 460.4,1329.6 463.4,1332.2 466.4,1335.3 469.4,1338.7 472.4,1342.6 475.4,1347 478.4,1351.9 481.4,1357.3 484.4,1363.2 487.4,1369.5 490.4,1376.1 493.4,1383.1 496.4,1390.3 499.4,1397.8 502.4,1405.7 505.4,1413.8 508.4,1422.3 511.4,1431 514.4,1439.9 517.4,1448.9 520.3,1458.1 523.3,1467.4 526.3,1476.8 529.3,1486.3 532.3,1495.9 535.3,1505.6 538.3,1515.4 541.3,1525.2 544.3,1535.1 547.3,1544.9 550.3,1554.6 553.3,1564.2 556.3,1573.7 559.3,1583.1 562.3,1592.4 565.3,1601.6 568.3,1610.8 571.3,1619.8 574.3,1628.9 577.3,1638 580.3,1647.1 583.3,1656.2 586.3,1665.4 589.3,1674.6 592.3,1683.9 595.3,1693.2 598.3,1702.6 601.2,1711.9 604.2,1721.3 607.2,1730.6 610.2,1740 613.2,1749.3 616.2,1758.5 619.2,1767.8 622.2,1777 625.2,1786.2 628.2,1795.3 631.2,1804.3 634.2,1813.3 637.2,1822.1 640.2,1830.8 643.2,1839.4 646.2,1847.9 649.2,1856.2 652.2,1864.4 655.2,1872.5 658.2,1880.5 661.2,1888.4 664.2,1896.2 667.2,1903.9 670.2,1911.4 673.2,1918.9 676.2,1926.2 679.2,1933.4 682.1,1940.4 685.1,1947.4 688.1,1954.1 691.1,1960.8 694.1,1967.3 697.1,1973.8 700.1,1980 703.1,1986.2 706.1,1992.2 709.1,1998.1 712.1,2003.9 715.1,2009.5 718.1,2015 721.1,2020.4 724.1,2025.7 727.1,2030.8 730.1,2035.9 733.1,2040.7 736.1,2045.5 739.1,2050.1 742.1,2054.6 745.1,2058.9 748.1,2063.1 751.1,2067.2 754.1,2071.2 757.1,2075.1 760.1,2078.8 763.1,2082.4 766,2085.9 769,2089.4 772,2092.7 775,2095.9 778,2099 781,2102 784,2104.9 787,2107.7 790,2110.5 793,2113.1 796,2115.7 799,2118.2 802,2120.6 805,2122.9 808,2125.1 811,2127.3 814,2129.4 817,2131.4 820,2133.4 823,2135.3 826,2137.2 829,2139.1 832,2140.9 835,2142.8 838,2144.6 841,2146.3 844,2148 846.9,2149.7 849.9,2151.4 852.9,2153 855.9,2154.6 858.9,2156.1 861.9,2157.6 864.9,2159 867.9,2160.4 870.9,2161.7 873.9,2163 876.9,2164.2 879.9,2165.4 882.9,2166.6 885.9,2167.7 888.9,2168.8 891.9,2169.9 894.9,2171 897.9,2172 900.9,2173.1 903.9,2174.1 906.9,2175 909.9,2176 912.9,2176.9 915.9,2177.7 918.9,2178.5 921.9,2179.3 924.9,2180.1 927.8,2180.8 930.8,2181.4 933.8,2182.1 936.8,2182.7 939.8,2183.3 942.8,2183.9 945.8,2184.4 948.8,2185 951.8,2185.5 954.8,2186.1 957.8,2186.6 960.8,2187.2 963.8,2187.7 966.8,2188.2 969.8,2188.7 972.8,2189.2 975.8,2189.7 978.8,2190.2 981.8,2190.6 984.8,2191 987.8,2191.4 990.8,2191.7 993.8,2192.1 996.8,2192.4 999.8,2192.7 1002.8,2193 1005.8,2193.3 1008.8,2193.6 1011.7,2193.9 1014.7,2194.1 1017.7,2194.4 1020.7,2194.6 1023.7,2194.9 1026.7,2195.1 1029.7,2195.4 1032.7,2195.6 1035.7,2195.8 1038.7,2196.1 1041.7,2196.3 1044.7,2196.5 1047.7,2196.7 1050.7,2196.9 1053.7,2197.1 1056.7,2197.3 1059.7,2197.5 1062.7,2197.7 1065.7,2197.9 1068.7,2198 1071.7,2198.2 1074.7,2198.4 1077.7,2198.5 1080.7,2198.7 1083.7,2198.8 1086.7,2199 1089.7,2199.1 1092.6,2199.3 1095.6,2199.4 1098.6,2199.6 1101.6,2199.7 1104.6,2199.8 1107.6,2199.9 1110.6,2200.1 1113.6,2200.2 1116.6,2200.3 1119.6,2200.4 1122.6,2200.5 1125.6,2200.6 1128.6,2200.6 1131.6,2200.7" stroke="#ff0080"/>
<path d="M232.7,2112 235.7,2107.6 238.7,2104 241.7,2099 244.7,2092.8 247.7,2085.5 250.7,2077.1 253.7,2067.6 256.7,2057.3 259.7,2046.3 262.7,2034.8 265.7,2023 268.7,2010.9 271.7,1998.5 274.6,1985.8 277.6,1973 280.6,1960.1 283.6,1947.2 286.6,1934.4 289.6,1921.9 292.6,1909.9 295.6,1898.5 298.6,1887.5 301.6,1876.7 304.6,1865.9 307.6,1855 310.6,1843.9 313.6,1832.5 316.6,1820.8 319.6,1808.9 322.6,1796.8 325.6,1784.6 328.6,1772.2 331.6,1759.6 334.6,1746.9 337.6,1733.9 340.6,1720.9 343.6,1707.7 346.6,1694.5 349.6,1681.3 352.6,1668.2 355.5,1655.2 358.5,1642.3 361.5,1629.5 364.5,1617 367.5,1604.9 370.5,1593.5 373.5,1582.9 376.5,1573.2 379.5,1564.3 382.5,1556.2 385.5,1548.8 388.5,1542 391.5,1535.7 394.5,1529.9 397.5,1524.5 400.5,1519.5 403.5,1514.7 406.5,1510.3 409.5,1506.2 412.5,1502.4 415.5,1499.1 418.5,1496.2 421.5,1493.8 424.5,1491.7 427.5,1489.9 430.5,1488.5 433.5,1487.6 436.5,1487 439.4,1486.9 442.4,1487.3 445.4,1488.1 448.4,1489.2 451.4,1490.7 454.4,1492.6 457.4,1494.9 460.4,1497.6 463.4,1500.7 466.4,1504.2 469.4,1508.1 472.4,1512.5 475.4,1517.3 478.4,1522.5 481.4,1528.2 484.4,1534.3 487.4,1540.8 490.4,1547.7 493.4,1554.9 496.4,1562.3 499.4,1570 502.4,1577.8 505.4,1585.7 508.4,1593.6 511.4,1601.6 514.4,1609.5 517.4,1617.5 520.3,1625.5 523.3,1633.6 526.3,1641.7 529.3,1649.8 532.3,1657.9 535.3,1666.1 538.3,1674.2 541.3,1682.4 544.3,1690.6 547.3,1698.8 550.3,1707 553.3,1715.2 556.3,1723.4 559.3,1731.6 562.3,1739.8 565.3,1747.9 568.3,1756 571.3,1764 574.3,1772 577.3,1779.9 580.3,1787.7 583.3,1795.5 586.3,1803.2 589.3,1810.9 592.3,1818.4 595.3,1825.9 598.3,1833.3 601.2,1840.6 604.2,1847.7 607.2,1854.8 610.2,1861.7 613.2,1868.6 616.2,1875.4 619.2,1882.1 622.2,1888.9 625.2,1895.6 628.2,1902.4 631.2,1909.2 634.2,1916.1 637.2,1923 640.2,1929.9 643.2,1936.7 646.2,1943.5 649.2,1950.2 652.2,1956.8 655.2,1963.3 658.2,1969.6 661.2,1975.9 664.2,1982.1 667.2,1988.2 670.2,1994.1 673.2,1999.9 676.2,2005.6 679.2,2011.1 682.1,2016.5 685.1,2021.8 688.1,2026.9 691.1,2031.8 694.1,2036.7 697.1,2041.5 700.1,2046.1 703.1,2050.6 706.1,2055.1 709.1,2059.4 712.1,2063.7 715.1,2067.9 718.1,2072 721.1,2076 724.1,2080 727.1,2083.8 730.1,2087.6 733.1,2091.3 736.1,2094.9 739.1,2098.3 742.1,2101.7 745.1,2105 748.1,2108.2 751.1,2111.4 754.1,2114.4 757.1,2117.4 760.1,2120.2 763.1,2123 766,2125.7 769,2128.2 772,2130.7 775,2133.1 778,2135.4 781,2137.6 784,2139.7 787,2141.8 790,2143.8 793,2145.7 796,2147.5 799,2149.3 802,2151 805,2152.7 808,2154.3 811,2155.9 814,2157.4 817,2158.9 820,2160.3 823,2161.7 826,2163 829,2164.3 832,2165.6 835,2166.8 838,2167.9 841,2169.1 844,2170.2 846.9,2171.3 849.9,2172.3 852.9,2173.3 855.9,2174.3 858.9,2175.2 861.9,2176.1 864.9,2176.9 867.9,2177.8 870.9,2178.5 873.9,2179.3 876.9,2180 879.9,2180.8 882.9,2181.4 885.9,2182.1 888.9,2182.7 891.9,2183.3 894.9,2183.9 897.9,2184.5 900.9,2185 903.9,2185.5 906.9,2186.1 909.9,2186.6 912.9,2187 915.9,2187.5 918.9,2188 921.9,2188.4 924.9,2188.9 927.8,2189.3 930.8,2189.8 933.8,2190.2 936.8,2190.6 939.8,2191 942.8,2191.4 945.8,2191.7 948.8,2192.1 951.8,2192.4 954.8,2192.7 957.8,2192.9 960.8,2193.2 963.8,2193.4 966.8,2193.6 969.8,2193.8 972.8,2194 975.8,2194.2 978.8,2194.4 981.8,2194.6 984.8,2194.8 987.8,2195 990.8,2195.2 993.8,2195.5 996.8,2195.7 999.8,2195.9 1002.8,2196.1 1005.8,2196.3 1008.8,2196.6 1011.7,2196.8 1014.7,2197 1017.7,2197.2 1020.7,2197.4 1023.7,2197.5 1026.7,2197.7 1029.7,2197.9 1032.7,2198.1 1035.7,2198.3 1038.7,2198.4 1041.7,2198.6 1044.7,2198.8 1047.7,2198.9 1050.7,2199.1 1053.7,2199.2 1056.7,2199.4 1059.7,2199.5 1062.7,2199.6 1065.7,2199.8 1068.7,2199.9 1071.7,2200 1074.7,2200.1 1077.7,2200.3 1080.7,2200.4 1083.7,2200.5 1086.7,2200.6 1089.7,2200.7 1092.6,2200.8 1095.6,2200.9 1098.6,2201 1101.6,2201.1 1104.6,2201.2 1107.6,2201.2 1110.6,2201.3 1113.6,2201.4 1116.6,2201.5 1119.6,2201.6 1122.6,2201.6 1125.6,2201.7 1128.6,2201.8 1131.6,2201.8" stroke="#008000"/>
<path d="M232.7,2141 235.7,2138.9 238.7,2137.6 241.7,2136 244.7,2134.3 247.7,2132.4 250.7,2130.5 253.7,2128.3 256.7,2125.8 259.7,2122.9 262.7,2119.6 265.7,2115.9 268.7,2111.9 271.7,2107.8 274.6,2103.9 277.6,2100.5 280.6,2097.6 283.6,2095.3 286.6,2093.5 289.6,2092.3 292.6,2091.5 295.6,2091.1 298.6,2091 301.6,2091 304.6,2091.2 307.6,2091.4 310.6,2091.7 313.6,2092 316.6,2092.4 319.6,2092.8 322.6,2093.2 325.6,2093.6 328.6,2094 331.6,2094.4 334.6,2094.9 337.6,2095.3 340.6,2095.8 343.6,2096.2 346.6,2096.7 349.6,2097.1 352.6,2097.5 355.5,2097.8 358.5,2098.2 361.5,2098.5 364.5,2098.9 367.5,2099.2 370.5,2099.5 373.5,2099.7 376.5,2100 379.5,2100.2 382.5,2100.4 385.5,2100.5 388.5,2100.7 391.5,2100.8 394.5,2101 397.5,2101.1 400.5,2101.2 403.5,2101.3 406.5,2101.4 409.5,2101.4 412.5,2101.5 415.5,2101.5 418.5,2101.4 421.5,2101.3 424.5,2101.2 427.5,2100.9 430.5,2100.5 433.5,2100 436.5,2099.2 439.4,2098.3 442.4,2097.3 445.4,2096 448.4,2094.6 451.4,2092.9 454.4,2091 457.4,2088.8 460.4,2086.4 463.4,2083.7 466.4,2080.8 469.4,2077.8 472.4,2074.5 475.4,2071.2 478.4,2067.6 481.4,2063.9 484.4,2060 487.4,2055.8 490.4,2051.4 493.4,2046.6 496.4,2041.6 499.4,2036.4 502.4,2030.9 505.4,2025.3 508.4,2019.6 511.4,2013.8 514.4,2008.1 517.4,2002.5 520.3,1997.2 523.3,1992 526.3,1987 529.3,1982.1 532.3,1977.2 535.3,1972.3 538.3,1967.4 541.3,1962.6 544.3,1958 547.3,1953.7 550.3,1949.6 553.3,1945.8 556.3,1942.2 559.3,1938.9 562.3,1935.8 565.3,1932.8 568.3,1930.1 571.3,1927.4 574.3,1925 577.3,1922.7 580.3,1920.5 583.3,1918.5 586.3,1916.6 589.3,1914.9 592.3,1913.2 595.3,1911.7 598.3,1910.3 601.2,1909 604.2,1907.8 607.2,1906.7 610.2,1905.8 613.2,1904.9 616.2,1904.2 619.2,1903.6 622.2,1903.1 625.2,1902.6 628.2,1902.3 631.2,1902.1 634.2,1902.1 637.2,1902.2 640.2,1902.4 643.2,1902.9 646.2,1903.6 649.2,1904.4 652.2,1905.4 655.2,1906.5 658.2,1907.9 661.2,1909.5 664.2,1911.3 667.2,1913.4 670.2,1915.6 673.2,1917.9 676.2,1920.5 679.2,1923.2 682.1,1926 685.1,1929 688.1,1932.3 691.1,1935.7 694.1,1939.3 697.1,1943.1 700.1,1946.9 703.1,1950.8 706.1,1954.8 709.1,1958.8 712.1,1962.7 715.1,1966.6 718.1,1970.5 721.1,1974.5 724.1,1978.4 727.1,1982.4 730.1,1986.3 733.1,1990.3 736.1,1994.3 739.1,1998.2 742.1,2002.2 745.1,2006.2 748.1,2010.3 751.1,2014.3 754.1,2018.3 757.1,2022.4 760.1,2026.3 763.1,2030.3 766,2034.1 769,2037.9 772,2041.6 775,2045.2 778,2048.7 781,2052.1 784,2055.5 787,2058.8 790,2062 793,2065.3 796,2068.4 799,2071.5 802,2074.6 805,2077.7 808,2080.8 811,2083.8 814,2086.8 817,2089.7 820,2092.6 823,2095.5 826,2098.2 829,2100.9 832,2103.6 835,2106.1 838,2108.6 841,2111 844,2113.4 846.9,2115.7 849.9,2117.9 852.9,2120.1 855.9,2122.3 858.9,2124.4 861.9,2126.4 864.9,2128.5 867.9,2130.4 870.9,2132.4 873.9,2134.3 876.9,2136.2 879.9,2138 882.9,2139.8 885.9,2141.6 888.9,2143.2 891.9,2144.9 894.9,2146.5 897.9,2148.1 900.9,2149.6 903.9,2151.1 906.9,2152.5 909.9,2153.9 912.9,2155.3 915.9,2156.7 918.9,2158.1 921.9,2159.4 924.9,2160.8 927.8,2162.1 930.8,2163.5 933.8,2164.8 936.8,2166.1 939.8,2167.4 942.8,2168.6 945.8,2169.8 948.8,2171 951.8,2172.1 954.8,2173.1 957.8,2174.2 960.8,2175.2 963.8,2176.1 966.8,2177.1 969.8,2177.9 972.8,2178.8 975.8,2179.6 978.8,2180.4 981.8,2181.1 984.8,2181.9 987.8,2182.6 990.8,2183.2 993.8,2183.8 996.8,2184.5 999.8,2185.1 1002.8,2185.6 1005.8,2186.2 1008.8,2186.8 1011.7,2187.3 1014.7,2187.9 1017.7,2188.4 1020.7,2189 1023.7,2189.5 1026.7,2190 1029.7,2190.5 1032.7,2191 1035.7,2191.5 1038.7,2192 1041.7,2192.4 1044.7,2192.8 1047.7,2193.2 1050.7,2193.6 1053.7,2194 1056.7,2194.4 1059.7,2194.7 1062.7,2195.1 1065.7,2195.4 1068.7,2195.7 1071.7,2196 1074.7,2196.3 1077.7,2196.6 1080.7,2196.9 1083.7,2197.1 1086.7,2197.4 1089.7,2197.6 1092.6,2197.9 1095.6,2198.1 1098.6,2198.3 1101.6,2198.6 1104.6,2198.8 1107.6,2199 1110.6,2199.2 1113.6,2199.5 1116.6,2199.7 1119.6,2199.9 1122.6,2200.1 1125.6,2200.3 1128.6,2200.5 1131.6,2200.6" stroke="#0000a0"/>
</g>
<g stroke="#1e1e1e" stroke-width="3.3" stroke-linecap="butt">
<line x1="232.7" y1="1207" x2="232.7" y2="2222.1"/>
<line x1="1131.6" y1="1207" x2="1131.6" y2="2222.1"/>
<line x1="225.7" y1="1208.7" x2="1133.2" y2="1208.7"/>
<line x1="219" y1="2205.1" x2="1133.2" y2="2205.1"/>
<line x1="307.6" y1="2205.1" x2="307.6" y2="2214.6"/>
<line x1="382.5" y1="2205.1" x2="382.5" y2="2222.1"/>
<line x1="457.4" y1="2205.1" x2="457.4" y2="2214.6"/>
<line x1="532.3" y1="2205.1" x2="532.3" y2="2222.1"/>
<line x1="607.2" y1="2205.1" x2="607.2" y2="2214.6"/>
<line x1="682.1" y1="2205.1" x2="682.1" y2="2222.1"/>
<line x1="757.1" y1="2205.1" x2="757.1" y2="2214.6"/>
<line x1="832" y1="2205.1" x2="832" y2="2222.1"/>
<line x1="906.9" y1="2205.1" x2="906.9" y2="2214.6"/>
<line x1="981.8" y1="2205.1" x2="981.8" y2="2222.1"/>
<line x1="1056.7" y1="2205.1" x2="1056.7" y2="2214.6"/>
<line x1="225.7" y1="2114.5" x2="232.7" y2="2114.5"/>
<line x1="219" y1="2023.9" x2="232.7" y2="2023.9"/>
<line x1="225.7" y1="1933.4" x2="232.7" y2="1933.4"/>
<line x1="219" y1="1842.8" x2="232.7" y2="1842.8"/>
<line x1="225.7" y1="1752.2" x2="232.7" y2="1752.2"/>
<line x1="219" y1="1661.6" x2="232.7" y2="1661.6"/>
<line x1="225.7" y1="1571.1" x2="232.7" y2="1571.1"/>
<line x1="219" y1="1480.5" x2="232.7" y2="1480.5"/>
<line x1="225.7" y1="1389.9" x2="232.7" y2="1389.9"/>
<line x1="219" y1="1299.3" x2="232.7" y2="1299.3"/>
</g>
<text transform="translate(232.7,2265.6) scale(0.92,1)" font-family='"Liberation Sans", Arial, sans-serif' font-size="43.5" font-weight="normal" text-anchor="middle" fill="#000">400</text>
<text transform="translate(382.5,2265.6) scale(0.92,1)" font-family='"Liberation Sans", Arial, sans-serif' font-size="43.5" font-weight="normal" text-anchor="middle" fill="#000">450</text>
<text transform="translate(532.3,2265.6) scale(0.92,1)" font-family='"Liberation Sans", Arial, sans-serif' font-size="43.5" font-weight="normal" text-anchor="middle" fill="#000">500</text>
<text transform="translate(682.1,2265.6) scale(0.92,1)" font-family='"Liberation Sans", Arial, sans-serif' font-size="43.5" font-weight="normal" text-anchor="middle" fill="#000">550</text>
<text transform="translate(832,2265.6) scale(0.92,1)" font-family='"Liberation Sans", Arial, sans-serif' font-size="43.5" font-weight="normal" text-anchor="middle" fill="#000">600</text>
<text transform="translate(981.8,2265.6) scale(0.92,1)" font-family='"Liberation Sans", Arial, sans-serif' font-size="43.5" font-weight="normal" text-anchor="middle" fill="#000">650</text>
<text transform="translate(1131.6,2265.6) scale(0.92,1)" font-family='"Liberation Sans", Arial, sans-serif' font-size="43.5" font-weight="normal" text-anchor="middle" fill="#000">700</text>
<text transform="translate(208.4,2216.7) scale(0.92,1)" font-family='"Liberation Sans", Arial, sans-serif' font-size="43.5" font-weight="normal" text-anchor="end" fill="#000">0</text>
<text transform="translate(208.4,2035.5) scale(0.92,1)" font-family='"Liberation Sans", Arial, sans-serif' font-size="43.5" font-weight="normal" text-anchor="end" fill="#000">50</text>
<text transform="translate(208.4,1854.4) scale(0.92,1)" font-family='"Liberation Sans", Arial, sans-serif' font-size="43.5" font-weight="normal" text-anchor="end" fill="#000">100</text>
<text transform="translate(208.4,1673.2) scale(0.92,1)" font-family='"Liberation Sans", Arial, sans-serif' font-size="43.5" font-weight="normal" text-anchor="end" fill="#000">150</text>
<text transform="translate(208.4,1492.1) scale(0.92,1)" font-family='"Liberation Sans", Arial, sans-serif' font-size="43.5" font-weight="normal" text-anchor="end" fill="#000">200</text>
<text transform="translate(208.4,1310.9) scale(0.92,1)" font-family='"Liberation Sans", Arial, sans-serif' font-size="43.5" font-weight="normal" text-anchor="end" fill="#000">250</text>
<text transform="translate(627,2347.6) scale(0.92,1)" font-size="48" fill="#000"><tspan font-family='"Liberation Serif", "Times New Roman", serif' font-size="46.5">λ</tspan><tspan font-family='"Liberation Sans", Arial, sans-serif' font-weight="bold"> /nm</tspan></text>
<text transform="translate(60.6,1693.8) scale(0.92,1) rotate(-90)" font-family='"Liberation Sans", Arial, sans-serif' font-size="50.1" font-weight="bold" text-anchor="middle" fill="#000" xml:space="preserve">FL intensity  (a.u.)</text>
<text transform="translate(841.3,1316.9) scale(0.87,1)" font-family='"Liberation Sans", Arial, sans-serif' font-size="48.5" font-weight="bold" fill="#000"><tspan font-style="italic" font-size="50">f</tspan><tspan font-size="28.5" font-weight="normal" dy="15.5" dx="-2.5">Et</tspan><tspan dy="-15.5" dx="5">(vol%)</tspan></text>
<rect x="861.3" y="1371.2" width="135.1" height="531.6" fill="#fff" stroke="#6e6e6e" stroke-width="2.4"/>
<line x1="860.1" y1="1371.2" x2="997.6" y2="1371.2" stroke="#5a5a5a" stroke-width="3.6"/>
<line x1="860.1" y1="1902.8" x2="997.6" y2="1902.8" stroke="#6a6a6a" stroke-width="3.4"/>
<line x1="864.6" y1="1398.4" x2="946" y2="1398.4" stroke="#000000" stroke-width="3.8"/>
<text transform="translate(954.6,1411.7) scale(0.92,1)" font-family='"Liberation Sans", Arial, sans-serif' font-size="38" font-weight="normal" text-anchor="start" fill="#000">0</text>
<line x1="864.6" y1="1446.6" x2="946" y2="1446.6" stroke="#ff0000" stroke-width="3.8"/>
<text transform="translate(954.6,1459.9) scale(0.92,1)" font-family='"Liberation Sans", Arial, sans-serif' font-size="38" font-weight="normal" text-anchor="start" fill="#000">10</text>
<line x1="864.6" y1="1494.8" x2="946" y2="1494.8" stroke="#0000ff" stroke-width="3.8"/>
<text transform="translate(954.6,1508.1) scale(0.92,1)" font-family='"Liberation Sans", Arial, sans-serif' font-size="38" font-weight="normal" text-anchor="start" fill="#000">20</text>
<line x1="864.6" y1="1543.1" x2="946" y2="1543.1" stroke="#008080" stroke-width="3.8"/>
<text transform="translate(954.6,1556.4) scale(0.92,1)" font-family='"Liberation Sans", Arial, sans-serif' font-size="38" font-weight="normal" text-anchor="start" fill="#000">30</text>
<line x1="864.6" y1="1591.3" x2="946" y2="1591.3" stroke="#ff00ff" stroke-width="3.8"/>
<text transform="translate(954.6,1604.6) scale(0.92,1)" font-family='"Liberation Sans", Arial, sans-serif' font-size="38" font-weight="normal" text-anchor="start" fill="#000">40</text>
<line x1="864.6" y1="1639.5" x2="946" y2="1639.5" stroke="#808000" stroke-width="3.8"/>
<text transform="translate(954.6,1652.8) scale(0.92,1)" font-family='"Liberation Sans", Arial, sans-serif' font-size="38" font-weight="normal" text-anchor="start" fill="#000">50</text>
<line x1="864.6" y1="1687.7" x2="946" y2="1687.7" stroke="#1c1c78" stroke-width="3.8"/>
<text transform="translate(954.6,1701) scale(0.92,1)" font-family='"Liberation Sans", Arial, sans-serif' font-size="38" font-weight="normal" text-anchor="start" fill="#000">60</text>
<line x1="864.6" y1="1735.9" x2="946" y2="1735.9" stroke="#800000" stroke-width="3.8"/>
<text transform="translate(954.6,1749.2) scale(0.92,1)" font-family='"Liberation Sans", Arial, sans-serif' font-size="38" font-weight="normal" text-anchor="start" fill="#000">70</text>
<line x1="864.6" y1="1784.2" x2="946" y2="1784.2" stroke="#ff0080" stroke-width="3.8"/>
<text transform="translate(954.6,1797.5) scale(0.92,1)" font-family='"Liberation Sans", Arial, sans-serif' font-size="38" font-weight="normal" text-anchor="start" fill="#000">80</text>
<line x1="864.6" y1="1832.4" x2="946" y2="1832.4" stroke="#008000" stroke-width="3.8"/>
<text transform="translate(954.6,1845.7) scale(0.92,1)" font-family='"Liberation Sans", Arial, sans-serif' font-size="38" font-weight="normal" text-anchor="start" fill="#000">90</text>
<line x1="864.6" y1="1880.6" x2="946" y2="1880.6" stroke="#0000a0" stroke-width="3.8"/>
<text transform="translate(954.6,1893.9) scale(0.92,1)" font-family='"Liberation Sans", Arial, sans-serif' font-size="38" font-weight="normal" text-anchor="start" fill="#000">99</text>
<text transform="translate(23.5,1329) scale(0.97,1)" font-family='"Liberation Serif", "Times New Roman", serif' font-size="117" font-weight="bold" text-anchor="start" fill="#000">c</text>
<defs>
<clipPath id="pbclip"><rect x="1745.3" y="199.4" width="314.3" height="277.8"/></clipPath>
<filter id="pbblur" x="-10%" y="-10%" width="120%" height="120%"><feGaussianBlur stdDeviation="3"/></filter>
<filter id="pbblur2" x="-20%" y="-20%" width="140%" height="140%"><feGaussianBlur stdDeviation="1.8"/></filter>
<linearGradient id="pbL" x1="0" y1="0" x2="0" y2="1"><stop offset="0" stop-color="#14140a"/><stop offset="0.2" stop-color="#383210"/><stop offset="0.34" stop-color="#927e2a"/><stop offset="0.44" stop-color="#8a7424"/><stop offset="0.58" stop-color="#4a4414"/><stop offset="0.8" stop-color="#2a2b0c"/><stop offset="1" stop-color="#1a1c08"/></linearGradient>
<linearGradient id="pbR" x1="0" y1="0" x2="0" y2="1"><stop offset="0" stop-color="#0e2a10"/><stop offset="0.2" stop-color="#1f6a1c"/><stop offset="0.33" stop-color="#6fdc30"/><stop offset="0.42" stop-color="#8cf040"/><stop offset="0.55" stop-color="#38ac28"/><stop offset="0.7" stop-color="#1e7e22"/><stop offset="0.85" stop-color="#14601c"/><stop offset="1" stop-color="#0d4214"/></linearGradient>
</defs>
<g clip-path="url(#pbclip)">
<rect x="1745.3" y="199.4" width="314.3" height="277.8" fill="#090a09"/>
<g filter="url(#pbblur)">
<rect x="1753" y="199" width="5" height="280" fill="#2c2e2c"/>
<rect x="1886" y="199" width="13" height="280" fill="#252825"/>
<rect x="1908" y="199" width="11" height="280" fill="#262c26"/>
<rect x="2044" y="199" width="12" height="280" fill="#1f241f"/>
<rect x="1752" y="368" width="150" height="85" fill="url(#pbL)"/>
<ellipse cx="1827" cy="366" rx="73" ry="21" fill="#0a0a08"/>
<path d="M1756,392 Q1827,414 1898,392" stroke="#a08a2c" stroke-width="6" fill="none" opacity="0.75"/>
<rect x="1905" y="362" width="155" height="91" fill="url(#pbR)"/>
<ellipse cx="1982" cy="356" rx="77" ry="19" fill="#0a0f0a"/>
<path d="M1910,390 Q1982,414 2056,390" stroke="#98f448" stroke-width="8" fill="none" opacity="0.8"/>
<rect x="1746" y="453" width="158" height="26" fill="#1a1d14"/>
<rect x="1905" y="453" width="155" height="26" fill="#16381c"/>
<rect x="1745" y="199" width="7.5" height="280" fill="#000"/>
</g>
<g filter="url(#pbblur2)" fill="none">
<path d="M1753.5,368 L1753.5,390 Q1765,392.5 1776.5,389 Q1761.5,383 1758,368 Z" fill="#fcfcee"/>
<path d="M1901,363 L1901,390 Q1886.5,392.5 1872,389 Q1890.8,383 1896.5,363 Z" fill="#f4f4e2"/>
<path d="M1906.5,360 L1906.5,386 Q1916.5,388.5 1926.5,385 Q1913.5,379 1911,360 Z" fill="#f8fff0"/>
<path d="M2058.5,363 L2058.5,386 Q2048,388.5 2037.5,385 Q2051.2,379 2054,363 Z" fill="#f2ffe6"/>
<path d="M1755,452 L1900,452" stroke="#e4e6d0" stroke-width="2.6"/>
<path d="M1754,453 Q1757,466 1782,468 L1872,468 Q1897,466 1900,453" stroke="#f6f6ee" stroke-width="5.5"/>
<path d="M1795,474 L1862,474" stroke="#b494e4" stroke-width="5"/>
<path d="M1909,452 L2054,452" stroke="#cfe8c0" stroke-width="2.4"/>
<path d="M1908,453 Q1911,466 1936,468 L2030,468 Q2053,466 2056,453" stroke="#f2f8ec" stroke-width="5.5"/>
<path d="M1990,474 L2040,474" stroke="#b0a4d8" stroke-width="3.5"/>
<path d="M2040,232 L2045,224 M2034,262 L2038,254 M1910,216 L1912,228 M1909,288 L1910,296 M1912,330 L1914,342" stroke="#c8c8c8" stroke-width="2.5"/>
</g>
<rect x="1902.1" y="199.4" width="3.2" height="277.8" fill="#000"/>
</g>
<defs>
<clipPath id="pdclip"><rect x="1741.1" y="1405.2" width="299.9" height="278.3"/></clipPath>
<filter id="pdblur" x="-10%" y="-10%" width="120%" height="120%"><feGaussianBlur stdDeviation="3.2"/></filter>
<filter id="pdblur2" x="-10%" y="-10%" width="120%" height="120%"><feGaussianBlur stdDeviation="1.4"/></filter>
<linearGradient id="pdR" x1="0" y1="0" x2="0" y2="1"><stop offset="0" stop-color="#021210"/><stop offset="0.12" stop-color="#05423e"/><stop offset="0.22" stop-color="#0fae9e"/><stop offset="0.36" stop-color="#1ed8c6"/><stop offset="0.55" stop-color="#12cfc4"/><stop offset="0.72" stop-color="#0c9aa6"/><stop offset="0.88" stop-color="#09707e"/><stop offset="1" stop-color="#064650"/></linearGradient>
</defs>
<g clip-path="url(#pdclip)">
<rect x="1741.1" y="1405.2" width="299.9" height="278.3" fill="#020403"/>
<g filter="url(#pdblur)">
<rect x="1890" y="1405" width="9" height="180" fill="#06241e"/>
<rect x="1899" y="1405" width="140" height="160" fill="#030a09"/>
<rect x="1893" y="1555" width="148" height="128" fill="url(#pdR)"/>
<ellipse cx="1966" cy="1562" rx="66" ry="24" fill="#03201f"/>
<ellipse cx="1966" cy="1552" rx="70" ry="20" fill="#020a0a"/>
<path d="M1896,1588 Q1966,1634 2038,1588" stroke="#c4efe8" stroke-width="11" fill="none"/>
<path d="M1896,1578 Q1966,1612 2038,1578" stroke="#16c8b8" stroke-width="9" fill="none" opacity="0.8"/>
<ellipse cx="1888" cy="1596" rx="7" ry="22" fill="#063a36"/>
<rect x="1893" y="1668" width="148" height="16" fill="#06323a"/>
</g>
<g filter="url(#pdblur2)" fill="none" opacity="0.62">
<path d="M1747,1578 Q1756,1590 1786,1595" stroke="#6f8f86" stroke-width="2.4"/>
<path d="M1890,1576 Q1880,1588 1858,1592" stroke="#4d6f66" stroke-width="2.2"/>
<path d="M1770,1590 L1782,1594" stroke="#2fd0a0" stroke-width="2.5"/>
<path d="M1748,1652 L1888,1652" stroke="#7c8c8a" stroke-width="2"/>
<path d="M1748,1652 Q1756,1676 1800,1678 L1840,1678 Q1882,1676 1890,1652" stroke="#8a9a98" stroke-width="2.6"/>
<path d="M1752,1656 Q1760,1666 1776,1668" stroke="#2fae8a" stroke-width="3"/>
<path d="M1800,1679 L1852,1679" stroke="#3a28b0" stroke-width="3"/>
<path d="M1896,1660 Q1904,1678 1944,1679 L1990,1679 Q2030,1678 2038,1660" stroke="#7ab8c0" stroke-width="2.2" opacity="0.8"/>
<path d="M1896,1585 L1896,1670" stroke="#30e0c0" stroke-width="2" opacity="0.7"/>
</g>
</g>
<g stroke="#222" stroke-width="4.2">
<line x1="1382.1" y1="51.1" x2="1382.1" y2="998.4"/>
<line x1="2353.8" y1="51.1" x2="2353.8" y2="998.4"/>
<line x1="1365.6" y1="53.2" x2="2353.8" y2="53.2"/>
<line x1="1365.6" y1="996.3" x2="2353.8" y2="996.3"/>
</g>
<g stroke="#222" stroke-width="3.8">
<line x1="1410.1" y1="996.3" x2="1410.1" y2="1012.8"/>
<line x1="1501.5" y1="996.3" x2="1501.5" y2="1012.8"/>
<line x1="1593" y1="996.3" x2="1593" y2="1012.8"/>
<line x1="1684.4" y1="996.3" x2="1684.4" y2="1012.8"/>
<line x1="1775.9" y1="996.3" x2="1775.9" y2="1012.8"/>
<line x1="1867.3" y1="996.3" x2="1867.3" y2="1012.8"/>
<line x1="1958.8" y1="996.3" x2="1958.8" y2="1012.8"/>
<line x1="2050.2" y1="996.3" x2="2050.2" y2="1012.8"/>
<line x1="2141.7" y1="996.3" x2="2141.7" y2="1012.8"/>
<line x1="2233.2" y1="996.3" x2="2233.2" y2="1012.8"/>
<line x1="2324.6" y1="996.3" x2="2324.6" y2="1012.8"/>
<line x1="1373.1" y1="929" x2="1382.1" y2="929"/>
<line x1="1365.6" y1="861.7" x2="1382.1" y2="861.7"/>
<line x1="1373.1" y1="794.4" x2="1382.1" y2="794.4"/>
<line x1="1365.6" y1="727.1" x2="1382.1" y2="727.1"/>
<line x1="1373.1" y1="659.8" x2="1382.1" y2="659.8"/>
<line x1="1365.6" y1="592.5" x2="1382.1" y2="592.5"/>
<line x1="1373.1" y1="525.2" x2="1382.1" y2="525.2"/>
<line x1="1365.6" y1="457.9" x2="1382.1" y2="457.9"/>
<line x1="1373.1" y1="390.6" x2="1382.1" y2="390.6"/>
<line x1="1365.6" y1="323.3" x2="1382.1" y2="323.3"/>
<line x1="1373.1" y1="256" x2="1382.1" y2="256"/>
<line x1="1365.6" y1="188.7" x2="1382.1" y2="188.7"/>
<line x1="1373.1" y1="121.4" x2="1382.1" y2="121.4"/>
</g>
<text transform="translate(1408.7,1058.3)" font-family='"Liberation Sans", Arial, sans-serif' font-size="42" font-weight="normal" text-anchor="middle" fill="#000">0</text>
<text transform="translate(1499.5,1058.3)" font-family='"Liberation Sans", Arial, sans-serif' font-size="42" font-weight="normal" text-anchor="middle" fill="#000">10</text>
<text transform="translate(1590.3,1058.3)" font-family='"Liberation Sans", Arial, sans-serif' font-size="42" font-weight="normal" text-anchor="middle" fill="#000">20</text>
<text transform="translate(1681.1,1058.3)" font-family='"Liberation Sans", Arial, sans-serif' font-size="42" font-weight="normal" text-anchor="middle" fill="#000">30</text>
<text transform="translate(1771.9,1058.3)" font-family='"Liberation Sans", Arial, sans-serif' font-size="42" font-weight="normal" text-anchor="middle" fill="#000">40</text>
<text transform="translate(1862.7,1058.3)" font-family='"Liberation Sans", Arial, sans-serif' font-size="42" font-weight="normal" text-anchor="middle" fill="#000">50</text>
<text transform="translate(1953.5,1058.3)" font-family='"Liberation Sans", Arial, sans-serif' font-size="42" font-weight="normal" text-anchor="middle" fill="#000">60</text>
<text transform="translate(2044.3,1058.3)" font-family='"Liberation Sans", Arial, sans-serif' font-size="42" font-weight="normal" text-anchor="middle" fill="#000">70</text>
<text transform="translate(2135.1,1058.3)" font-family='"Liberation Sans", Arial, sans-serif' font-size="42" font-weight="normal" text-anchor="middle" fill="#000">80</text>
<text transform="translate(2225.9,1058.3)" font-family='"Liberation Sans", Arial, sans-serif' font-size="42" font-weight="normal" text-anchor="middle" fill="#000">90</text>
<text transform="translate(2322.2,1058.3)" font-family='"Liberation Sans", Arial, sans-serif' font-size="42" font-weight="normal" text-anchor="middle" fill="#000">99</text>
<text transform="translate(1355.9,1006.2)" font-family='"Liberation Sans", Arial, sans-serif' font-size="42" font-weight="normal" text-anchor="end" fill="#000">20</text>
<text transform="translate(1355.9,871.6)" font-family='"Liberation Sans", Arial, sans-serif' font-size="42" font-weight="normal" text-anchor="end" fill="#000">40</text>
<text transform="translate(1355.9,737)" font-family='"Liberation Sans", Arial, sans-serif' font-size="42" font-weight="normal" text-anchor="end" fill="#000">60</text>
<text transform="translate(1355.9,602.4)" font-family='"Liberation Sans", Arial, sans-serif' font-size="42" font-weight="normal" text-anchor="end" fill="#000">80</text>
<text transform="translate(1355.9,467.8)" font-family='"Liberation Sans", Arial, sans-serif' font-size="42" font-weight="normal" text-anchor="end" fill="#000">100</text>
<text transform="translate(1355.9,333.2)" font-family='"Liberation Sans", Arial, sans-serif' font-size="42" font-weight="normal" text-anchor="end" fill="#000">120</text>
<text transform="translate(1355.9,198.6)" font-family='"Liberation Sans", Arial, sans-serif' font-size="42" font-weight="normal" text-anchor="end" fill="#000">140</text>
<text transform="translate(1355.9,64)" font-family='"Liberation Sans", Arial, sans-serif' font-size="42" font-weight="normal" text-anchor="end" fill="#000">160</text>
<line x1="1422.4" y1="508.4" x2="1487.5" y2="522.7" stroke="#4a4a4a" stroke-width="2.0"/>
<line x1="1512.7" y1="519.6" x2="1580" y2="485.9" stroke="#4a4a4a" stroke-width="2.0"/>
<line x1="1601.7" y1="489.4" x2="1673.9" y2="560.6" stroke="#4a4a4a" stroke-width="2.0"/>
<line x1="1694.8" y1="577.5" x2="1763.7" y2="622.6" stroke="#4a4a4a" stroke-width="2.0"/>
<line x1="1781.3" y1="641.9" x2="1860.1" y2="790.3" stroke="#4a4a4a" stroke-width="2.0"/>
<line x1="1879" y1="807.3" x2="1945.4" y2="834.2" stroke="#4a4a4a" stroke-width="2.0"/>
<line x1="1969.3" y1="846.4" x2="2037.9" y2="889.3" stroke="#4a4a4a" stroke-width="2.0"/>
<line x1="2051" y1="883.1" x2="2139.1" y2="184.4" stroke="#4a4a4a" stroke-width="2.0"/>
<line x1="2154.3" y1="170.1" x2="2218.8" y2="165.8" stroke="#4a4a4a" stroke-width="2.0"/>
<line x1="2240.1" y1="175.9" x2="2306.7" y2="269.7" stroke="#4a4a4a" stroke-width="2.0"/>
<rect x="1400.8" y="497.1" width="16.8" height="16.8" fill="#000"/>
<rect x="1492.2" y="517.2" width="16.8" height="16.8" fill="#000"/>
<rect x="1583.7" y="471.5" width="16.8" height="16.8" fill="#000"/>
<rect x="1675.1" y="561.7" width="16.8" height="16.8" fill="#000"/>
<rect x="1766.6" y="621.6" width="16.8" height="16.8" fill="#000"/>
<rect x="1858" y="793.8" width="16.8" height="16.8" fill="#000"/>
<rect x="1949.5" y="830.9" width="16.8" height="16.8" fill="#000"/>
<rect x="2040.9" y="888.1" width="16.8" height="16.8" fill="#000"/>
<rect x="2132.4" y="162.6" width="16.8" height="16.8" fill="#000"/>
<rect x="2223.8" y="156.5" width="16.8" height="16.8" fill="#000"/>
<rect x="2306.2" y="272.3" width="16.8" height="16.8" fill="#000"/>
<rect x="1431.2" y="90.8" width="259.7" height="44.9" fill="#fff" stroke="#a0a0a0" stroke-width="2.8"/>
<line x1="1438.2" y1="114.2" x2="1524.2" y2="114.2" stroke="#7a7a7a" stroke-width="2.6"/>
<rect x="1466.2" y="99.8" width="30.4" height="29.4" fill="#000"/>
<text transform="translate(1545,126.7) scale(1.037,1)" font-family='"Liberation Sans", Arial, sans-serif' font-size="37.5" font-weight="normal" text-anchor="start" fill="#000">TPA-CN</text>
<text transform="translate(1207,127.5) scale(1.04,1)" font-family='"Liberation Serif", "Times New Roman", serif' font-size="113" font-weight="bold" text-anchor="start" fill="#000">b</text>
<text transform="translate(1866.6,1163) scale(1.008,1)" font-family='"Liberation Sans", Arial, sans-serif' font-size="46.5" font-weight="bold" text-anchor="middle" fill="#000" stroke="#000" stroke-width="0.6">Water Fraction (%)</text>
<text transform="translate(1248.4,655.8) rotate(-90)" font-family='"Liberation Sans", Arial, sans-serif' font-size="48.6" font-weight="bold" fill="#000" stroke="#000" stroke-width="0.5">I<tspan font-size="28" dy="19">max</tspan><tspan dy="-19"> (a.u.)</tspan></text>
<text transform="translate(1781.5,173.5) scale(0.96,1)" font-family='"Liberation Sans", Arial, sans-serif' font-size="59.5" font-weight="normal" text-anchor="start" fill="#000">0%</text>
<text transform="translate(1918.5,173.5) scale(0.96,1)" font-family='"Liberation Sans", Arial, sans-serif' font-size="59.5" font-weight="normal" text-anchor="start" fill="#000">90%</text>
<g stroke="#222" stroke-width="4.2">
<line x1="1379.9" y1="1236.3" x2="1379.9" y2="2199.8"/>
<line x1="2341.4" y1="1236.3" x2="2341.4" y2="2199.8"/>
<line x1="1363.4" y1="1238.4" x2="2341.4" y2="1238.4"/>
<line x1="1363.4" y1="2197.7" x2="2341.4" y2="2197.7"/>
</g>
<g stroke="#222" stroke-width="3.8">
<line x1="1407.4" y1="2197.7" x2="1407.4" y2="2214.2"/>
<line x1="1498" y1="2197.7" x2="1498" y2="2214.2"/>
<line x1="1588.6" y1="2197.7" x2="1588.6" y2="2214.2"/>
<line x1="1679.2" y1="2197.7" x2="1679.2" y2="2214.2"/>
<line x1="1769.8" y1="2197.7" x2="1769.8" y2="2214.2"/>
<line x1="1860.4" y1="2197.7" x2="1860.4" y2="2214.2"/>
<line x1="1951" y1="2197.7" x2="1951" y2="2214.2"/>
<line x1="2041.6" y1="2197.7" x2="2041.6" y2="2214.2"/>
<line x1="2132.2" y1="2197.7" x2="2132.2" y2="2214.2"/>
<line x1="2222.8" y1="2197.7" x2="2222.8" y2="2214.2"/>
<line x1="2313.4" y1="2197.7" x2="2313.4" y2="2214.2"/>
<line x1="1370.9" y1="2129.2" x2="1379.9" y2="2129.2"/>
<line x1="1363.4" y1="2060.7" x2="1379.9" y2="2060.7"/>
<line x1="1370.9" y1="1992.2" x2="1379.9" y2="1992.2"/>
<line x1="1363.4" y1="1923.7" x2="1379.9" y2="1923.7"/>
<line x1="1370.9" y1="1855.2" x2="1379.9" y2="1855.2"/>
<line x1="1363.4" y1="1786.7" x2="1379.9" y2="1786.7"/>
<line x1="1370.9" y1="1718.2" x2="1379.9" y2="1718.2"/>
<line x1="1363.4" y1="1649.7" x2="1379.9" y2="1649.7"/>
<line x1="1370.9" y1="1581.2" x2="1379.9" y2="1581.2"/>
<line x1="1363.4" y1="1512.7" x2="1379.9" y2="1512.7"/>
<line x1="1370.9" y1="1444.2" x2="1379.9" y2="1444.2"/>
<line x1="1363.4" y1="1375.7" x2="1379.9" y2="1375.7"/>
<line x1="1370.9" y1="1307.2" x2="1379.9" y2="1307.2"/>
</g>
<text transform="translate(1406.9,2255.4)" font-family='"Liberation Sans", Arial, sans-serif' font-size="42" font-weight="normal" text-anchor="middle" fill="#000">0</text>
<text transform="translate(1497.5,2255.4)" font-family='"Liberation Sans", Arial, sans-serif' font-size="42" font-weight="normal" text-anchor="middle" fill="#000">10</text>
<text transform="translate(1588.1,2255.4)" font-family='"Liberation Sans", Arial, sans-serif' font-size="42" font-weight="normal" text-anchor="middle" fill="#000">20</text>
<text transform="translate(1678.7,2255.4)" font-family='"Liberation Sans", Arial, sans-serif' font-size="42" font-weight="normal" text-anchor="middle" fill="#000">30</text>
<text transform="translate(1769.3,2255.4)" font-family='"Liberation Sans", Arial, sans-serif' font-size="42" font-weight="normal" text-anchor="middle" fill="#000">40</text>
<text transform="translate(1859.9,2255.4)" font-family='"Liberation Sans", Arial, sans-serif' font-size="42" font-weight="normal" text-anchor="middle" fill="#000">50</text>
<text transform="translate(1950.5,2255.4)" font-family='"Liberation Sans", Arial, sans-serif' font-size="42" font-weight="normal" text-anchor="middle" fill="#000">60</text>
<text transform="translate(2041.1,2255.4)" font-family='"Liberation Sans", Arial, sans-serif' font-size="42" font-weight="normal" text-anchor="middle" fill="#000">70</text>
<text transform="translate(2131.7,2255.4)" font-family='"Liberation Sans", Arial, sans-serif' font-size="42" font-weight="normal" text-anchor="middle" fill="#000">80</text>
<text transform="translate(2222.3,2255.4)" font-family='"Liberation Sans", Arial, sans-serif' font-size="42" font-weight="normal" text-anchor="middle" fill="#000">90</text>
<text transform="translate(2312.9,2255.4)" font-family='"Liberation Sans", Arial, sans-serif' font-size="42" font-weight="normal" text-anchor="middle" fill="#000">100</text>
<text transform="translate(1353.7,2207.6)" font-family='"Liberation Sans", Arial, sans-serif' font-size="42" font-weight="normal" text-anchor="end" fill="#000">0</text>
<text transform="translate(1353.7,2070.6)" font-family='"Liberation Sans", Arial, sans-serif' font-size="42" font-weight="normal" text-anchor="end" fill="#000">40</text>
<text transform="translate(1353.7,1933.6)" font-family='"Liberation Sans", Arial, sans-serif' font-size="42" font-weight="normal" text-anchor="end" fill="#000">80</text>
<text transform="translate(1353.7,1796.6)" font-family='"Liberation Sans", Arial, sans-serif' font-size="42" font-weight="normal" text-anchor="end" fill="#000">120</text>
<text transform="translate(1353.7,1659.6)" font-family='"Liberation Sans", Arial, sans-serif' font-size="42" font-weight="normal" text-anchor="end" fill="#000">160</text>
<text transform="translate(1353.7,1522.6)" font-family='"Liberation Sans", Arial, sans-serif' font-size="42" font-weight="normal" text-anchor="end" fill="#000">200</text>
<text transform="translate(1353.7,1385.6)" font-family='"Liberation Sans", Arial, sans-serif' font-size="42" font-weight="normal" text-anchor="end" fill="#000">240</text>
<text transform="translate(1353.7,1248.6)" font-family='"Liberation Sans", Arial, sans-serif' font-size="42" font-weight="normal" text-anchor="end" fill="#000">280</text>
<line x1="1420.7" y1="2014.5" x2="1484.7" y2="2003.1" stroke="#4a4a4a" stroke-width="2.0"/>
<line x1="1511.5" y1="2001" x2="1575.1" y2="2001.9" stroke="#4a4a4a" stroke-width="2.0"/>
<line x1="1601.9" y1="2000.1" x2="1665.9" y2="1990.2" stroke="#4a4a4a" stroke-width="2.0"/>
<line x1="1692.4" y1="1990.7" x2="1756.6" y2="2003.3" stroke="#4a4a4a" stroke-width="2.0"/>
<line x1="1782.9" y1="2009.2" x2="1847.3" y2="2025.5" stroke="#4a4a4a" stroke-width="2.0"/>
<line x1="1873.9" y1="2029.4" x2="1937.5" y2="2031.8" stroke="#4a4a4a" stroke-width="2.0"/>
<line x1="1960" y1="2022.2" x2="2032.6" y2="1941.3" stroke="#4a4a4a" stroke-width="2.0"/>
<line x1="2043.8" y1="1917.9" x2="2130" y2="1383.9" stroke="#4a4a4a" stroke-width="2.0"/>
<line x1="2139.3" y1="1382.1" x2="2215.7" y2="1506.7" stroke="#4a4a4a" stroke-width="2.0"/>
<line x1="2226.1" y1="1531.3" x2="2310.1" y2="1868.5" stroke="#4a4a4a" stroke-width="2.0"/>
<rect x="1399" y="2008.5" width="16.8" height="16.8" fill="#000"/>
<rect x="1489.6" y="1992.4" width="16.8" height="16.8" fill="#000"/>
<rect x="1580.2" y="1993.7" width="16.8" height="16.8" fill="#000"/>
<rect x="1670.8" y="1979.7" width="16.8" height="16.8" fill="#000"/>
<rect x="1761.4" y="1997.5" width="16.8" height="16.8" fill="#000"/>
<rect x="1852" y="2020.4" width="16.8" height="16.8" fill="#000"/>
<rect x="1942.6" y="2023.9" width="16.8" height="16.8" fill="#000"/>
<rect x="2033.2" y="1922.8" width="16.8" height="16.8" fill="#000"/>
<rect x="2123.8" y="1362.2" width="16.8" height="16.8" fill="#000"/>
<rect x="2214.4" y="1509.8" width="16.8" height="16.8" fill="#000"/>
<rect x="2305" y="1873.2" width="16.8" height="16.8" fill="#000"/>
<rect x="1434" y="1275.4" width="275.9" height="46.9" fill="#fff" stroke="#666" stroke-width="2.8"/>
<line x1="1441" y1="1299.8" x2="1527" y2="1299.8" stroke="#7a7a7a" stroke-width="2.6"/>
<rect x="1469" y="1285.4" width="30.4" height="29.4" fill="#000"/>
<text transform="translate(1537.4,1312.2) scale(1.037,1)" font-family='"Liberation Sans", Arial, sans-serif' font-size="37.5" font-weight="normal" text-anchor="start" fill="#000">TPA-CHO</text>
<text transform="translate(1208,1329) scale(1.04,1)" font-family='"Liberation Serif", "Times New Roman", serif' font-size="113" font-weight="bold" text-anchor="start" fill="#000">d</text>
<text transform="translate(1861.4,2347.3) scale(0.997,1)" font-family='"Liberation Sans", Arial, sans-serif' font-size="46.5" font-weight="bold" text-anchor="middle" fill="#000" stroke="#000" stroke-width="0.6">Water Fraction (%)</text>
<text transform="translate(1248.2,1852.3) rotate(-90)" font-family='"Liberation Sans", Arial, sans-serif' font-size="48.6" font-weight="bold" fill="#000" stroke="#000" stroke-width="0.5">I<tspan font-size="28" dy="19">max</tspan><tspan dy="-19"> (a.u.)</tspan></text>
<text transform="translate(1776,1377) scale(0.96,1)" font-family='"Liberation Sans", Arial, sans-serif' font-size="59.5" font-weight="normal" text-anchor="start" fill="#000">0%</text>
<text transform="translate(1904.5,1377) scale(0.96,1)" font-family='"Liberation Sans", Arial, sans-serif' font-size="59.5" font-weight="normal" text-anchor="start" fill="#000">90%</text>
</g>
<defs><filter id="soft" x="0" y="0" width="100%" height="100%" color-interpolation-filters="sRGB"><feGaussianBlur stdDeviation="0.7"/></filter></defs>
</svg></body></html>
